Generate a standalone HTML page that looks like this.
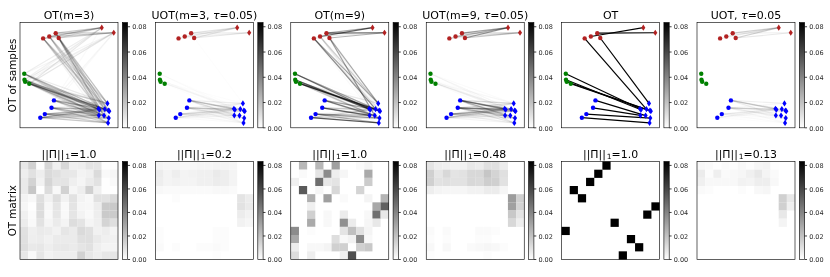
<!DOCTYPE html>
<html><head><meta charset="utf-8"><style>
html,body{margin:0;padding:0;background:#fff;overflow:hidden;width:830px;height:277px;}
svg{display:block;}
text{font-family:"DejaVu Sans","Liberation Sans",sans-serif;fill:#000;}
.t{fill:#2a2a2a;}
</style></head><body>
<svg width="830" height="277" viewBox="0 0 830 277">
<rect width="830" height="277" fill="#fff"/>
<defs><linearGradient id="cg" x1="0" y1="1" x2="0" y2="0"><stop offset="0" stop-color="#fff"/><stop offset="1" stop-color="#000"/></linearGradient></defs>
<g>
<line x1="44.80" y1="114.10" x2="98.45" y2="108.70" stroke="#000" stroke-opacity="0.090" stroke-width="1.2"/>
<line x1="44.80" y1="114.10" x2="108.05" y2="122.90" stroke="#000" stroke-opacity="0.180" stroke-width="1.2"/>
<line x1="44.80" y1="114.10" x2="107.45" y2="103.40" stroke="#000" stroke-opacity="0.012" stroke-width="1.2"/>
<line x1="44.80" y1="114.10" x2="98.85" y2="115.40" stroke="#000" stroke-opacity="0.161" stroke-width="1.2"/>
<line x1="44.80" y1="114.10" x2="104.05" y2="115.60" stroke="#000" stroke-opacity="0.059" stroke-width="1.2"/>
<line x1="44.80" y1="114.10" x2="108.75" y2="118.10" stroke="#000" stroke-opacity="0.153" stroke-width="1.2"/>
<line x1="44.80" y1="114.10" x2="104.85" y2="109.10" stroke="#000" stroke-opacity="0.059" stroke-width="1.2"/>
<line x1="44.80" y1="114.10" x2="109.30" y2="111.15" stroke="#000" stroke-opacity="0.067" stroke-width="1.2"/>
<line x1="44.80" y1="114.10" x2="99.45" y2="109.70" stroke="#000" stroke-opacity="0.106" stroke-width="1.2"/>
<line x1="44.80" y1="114.10" x2="108.40" y2="110.45" stroke="#000" stroke-opacity="0.102" stroke-width="1.2"/>
<line x1="53.90" y1="100.40" x2="98.45" y2="108.70" stroke="#000" stroke-opacity="0.067" stroke-width="1.2"/>
<line x1="53.90" y1="100.40" x2="108.05" y2="122.90" stroke="#000" stroke-opacity="0.118" stroke-width="1.2"/>
<line x1="53.90" y1="100.40" x2="107.45" y2="103.40" stroke="#000" stroke-opacity="0.067" stroke-width="1.2"/>
<line x1="53.90" y1="100.40" x2="98.85" y2="115.40" stroke="#000" stroke-opacity="0.145" stroke-width="1.2"/>
<line x1="53.90" y1="100.40" x2="104.05" y2="115.60" stroke="#000" stroke-opacity="0.122" stroke-width="1.2"/>
<line x1="53.90" y1="100.40" x2="108.75" y2="118.10" stroke="#000" stroke-opacity="0.094" stroke-width="1.2"/>
<line x1="53.90" y1="100.40" x2="104.85" y2="109.10" stroke="#000" stroke-opacity="0.090" stroke-width="1.2"/>
<line x1="53.90" y1="100.40" x2="109.30" y2="111.15" stroke="#000" stroke-opacity="0.047" stroke-width="1.2"/>
<line x1="53.90" y1="100.40" x2="99.45" y2="109.70" stroke="#000" stroke-opacity="0.059" stroke-width="1.2"/>
<line x1="53.90" y1="100.40" x2="108.40" y2="110.45" stroke="#000" stroke-opacity="0.141" stroke-width="1.2"/>
<line x1="53.90" y1="100.40" x2="101.75" y2="27.65" stroke="#000" stroke-opacity="0.024" stroke-width="1.2"/>
<line x1="53.90" y1="100.40" x2="113.75" y2="32.75" stroke="#000" stroke-opacity="0.035" stroke-width="1.2"/>
<line x1="51.50" y1="107.80" x2="98.45" y2="108.70" stroke="#000" stroke-opacity="0.082" stroke-width="1.2"/>
<line x1="51.50" y1="107.80" x2="108.05" y2="122.90" stroke="#000" stroke-opacity="0.173" stroke-width="1.2"/>
<line x1="51.50" y1="107.80" x2="107.45" y2="103.40" stroke="#000" stroke-opacity="0.051" stroke-width="1.2"/>
<line x1="51.50" y1="107.80" x2="98.85" y2="115.40" stroke="#000" stroke-opacity="0.165" stroke-width="1.2"/>
<line x1="51.50" y1="107.80" x2="104.05" y2="115.60" stroke="#000" stroke-opacity="0.106" stroke-width="1.2"/>
<line x1="51.50" y1="107.80" x2="108.75" y2="118.10" stroke="#000" stroke-opacity="0.106" stroke-width="1.2"/>
<line x1="51.50" y1="107.80" x2="104.85" y2="109.10" stroke="#000" stroke-opacity="0.063" stroke-width="1.2"/>
<line x1="51.50" y1="107.80" x2="109.30" y2="111.15" stroke="#000" stroke-opacity="0.039" stroke-width="1.2"/>
<line x1="51.50" y1="107.80" x2="99.45" y2="109.70" stroke="#000" stroke-opacity="0.078" stroke-width="1.2"/>
<line x1="51.50" y1="107.80" x2="108.40" y2="110.45" stroke="#000" stroke-opacity="0.114" stroke-width="1.2"/>
<line x1="51.50" y1="107.80" x2="113.75" y2="32.75" stroke="#000" stroke-opacity="0.024" stroke-width="1.2"/>
<line x1="40.30" y1="117.70" x2="98.45" y2="108.70" stroke="#000" stroke-opacity="0.082" stroke-width="1.2"/>
<line x1="40.30" y1="117.70" x2="108.05" y2="122.90" stroke="#000" stroke-opacity="0.220" stroke-width="1.2"/>
<line x1="40.30" y1="117.70" x2="98.85" y2="115.40" stroke="#000" stroke-opacity="0.137" stroke-width="1.2"/>
<line x1="40.30" y1="117.70" x2="104.05" y2="115.60" stroke="#000" stroke-opacity="0.027" stroke-width="1.2"/>
<line x1="40.30" y1="117.70" x2="108.75" y2="118.10" stroke="#000" stroke-opacity="0.176" stroke-width="1.2"/>
<line x1="40.30" y1="117.70" x2="104.85" y2="109.10" stroke="#000" stroke-opacity="0.035" stroke-width="1.2"/>
<line x1="40.30" y1="117.70" x2="109.30" y2="111.15" stroke="#000" stroke-opacity="0.067" stroke-width="1.2"/>
<line x1="40.30" y1="117.70" x2="99.45" y2="109.70" stroke="#000" stroke-opacity="0.184" stroke-width="1.2"/>
<line x1="40.30" y1="117.70" x2="108.40" y2="110.45" stroke="#000" stroke-opacity="0.059" stroke-width="1.2"/>
<line x1="58.70" y1="38.00" x2="98.45" y2="108.70" stroke="#000" stroke-opacity="0.047" stroke-width="1.2"/>
<line x1="58.70" y1="38.00" x2="108.05" y2="122.90" stroke="#000" stroke-opacity="0.027" stroke-width="1.2"/>
<line x1="58.70" y1="38.00" x2="107.45" y2="103.40" stroke="#000" stroke-opacity="0.129" stroke-width="1.2"/>
<line x1="58.70" y1="38.00" x2="98.85" y2="115.40" stroke="#000" stroke-opacity="0.055" stroke-width="1.2"/>
<line x1="58.70" y1="38.00" x2="104.05" y2="115.60" stroke="#000" stroke-opacity="0.129" stroke-width="1.2"/>
<line x1="58.70" y1="38.00" x2="108.75" y2="118.10" stroke="#000" stroke-opacity="0.051" stroke-width="1.2"/>
<line x1="58.70" y1="38.00" x2="104.85" y2="109.10" stroke="#000" stroke-opacity="0.114" stroke-width="1.2"/>
<line x1="58.70" y1="38.00" x2="109.30" y2="111.15" stroke="#000" stroke-opacity="0.047" stroke-width="1.2"/>
<line x1="58.70" y1="38.00" x2="99.45" y2="109.70" stroke="#000" stroke-opacity="0.027" stroke-width="1.2"/>
<line x1="58.70" y1="38.00" x2="108.40" y2="110.45" stroke="#000" stroke-opacity="0.118" stroke-width="1.2"/>
<line x1="58.70" y1="38.00" x2="101.75" y2="27.65" stroke="#000" stroke-opacity="0.114" stroke-width="1.2"/>
<line x1="58.70" y1="38.00" x2="113.75" y2="32.75" stroke="#000" stroke-opacity="0.149" stroke-width="1.2"/>
<line x1="55.70" y1="33.20" x2="98.45" y2="108.70" stroke="#000" stroke-opacity="0.035" stroke-width="1.2"/>
<line x1="55.70" y1="33.20" x2="107.45" y2="103.40" stroke="#000" stroke-opacity="0.137" stroke-width="1.2"/>
<line x1="55.70" y1="33.20" x2="98.85" y2="115.40" stroke="#000" stroke-opacity="0.031" stroke-width="1.2"/>
<line x1="55.70" y1="33.20" x2="104.05" y2="115.60" stroke="#000" stroke-opacity="0.102" stroke-width="1.2"/>
<line x1="55.70" y1="33.20" x2="108.75" y2="118.10" stroke="#000" stroke-opacity="0.024" stroke-width="1.2"/>
<line x1="55.70" y1="33.20" x2="104.85" y2="109.10" stroke="#000" stroke-opacity="0.106" stroke-width="1.2"/>
<line x1="55.70" y1="33.20" x2="109.30" y2="111.15" stroke="#000" stroke-opacity="0.035" stroke-width="1.2"/>
<line x1="55.70" y1="33.20" x2="99.45" y2="109.70" stroke="#000" stroke-opacity="0.031" stroke-width="1.2"/>
<line x1="55.70" y1="33.20" x2="108.40" y2="110.45" stroke="#000" stroke-opacity="0.071" stroke-width="1.2"/>
<line x1="55.70" y1="33.20" x2="101.75" y2="27.65" stroke="#000" stroke-opacity="0.208" stroke-width="1.2"/>
<line x1="55.70" y1="33.20" x2="113.75" y2="32.75" stroke="#000" stroke-opacity="0.212" stroke-width="1.2"/>
<line x1="49.30" y1="36.50" x2="98.45" y2="108.70" stroke="#000" stroke-opacity="0.059" stroke-width="1.2"/>
<line x1="49.30" y1="36.50" x2="108.05" y2="122.90" stroke="#000" stroke-opacity="0.016" stroke-width="1.2"/>
<line x1="49.30" y1="36.50" x2="107.45" y2="103.40" stroke="#000" stroke-opacity="0.137" stroke-width="1.2"/>
<line x1="49.30" y1="36.50" x2="98.85" y2="115.40" stroke="#000" stroke-opacity="0.024" stroke-width="1.2"/>
<line x1="49.30" y1="36.50" x2="104.05" y2="115.60" stroke="#000" stroke-opacity="0.098" stroke-width="1.2"/>
<line x1="49.30" y1="36.50" x2="108.75" y2="118.10" stroke="#000" stroke-opacity="0.024" stroke-width="1.2"/>
<line x1="49.30" y1="36.50" x2="104.85" y2="109.10" stroke="#000" stroke-opacity="0.102" stroke-width="1.2"/>
<line x1="49.30" y1="36.50" x2="109.30" y2="111.15" stroke="#000" stroke-opacity="0.047" stroke-width="1.2"/>
<line x1="49.30" y1="36.50" x2="99.45" y2="109.70" stroke="#000" stroke-opacity="0.024" stroke-width="1.2"/>
<line x1="49.30" y1="36.50" x2="108.40" y2="110.45" stroke="#000" stroke-opacity="0.067" stroke-width="1.2"/>
<line x1="49.30" y1="36.50" x2="101.75" y2="27.65" stroke="#000" stroke-opacity="0.208" stroke-width="1.2"/>
<line x1="49.30" y1="36.50" x2="113.75" y2="32.75" stroke="#000" stroke-opacity="0.204" stroke-width="1.2"/>
<line x1="43.10" y1="38.40" x2="98.45" y2="108.70" stroke="#000" stroke-opacity="0.075" stroke-width="1.2"/>
<line x1="43.10" y1="38.40" x2="108.05" y2="122.90" stroke="#000" stroke-opacity="0.024" stroke-width="1.2"/>
<line x1="43.10" y1="38.40" x2="107.45" y2="103.40" stroke="#000" stroke-opacity="0.114" stroke-width="1.2"/>
<line x1="43.10" y1="38.40" x2="98.85" y2="115.40" stroke="#000" stroke-opacity="0.039" stroke-width="1.2"/>
<line x1="43.10" y1="38.40" x2="104.05" y2="115.60" stroke="#000" stroke-opacity="0.078" stroke-width="1.2"/>
<line x1="43.10" y1="38.40" x2="108.75" y2="118.10" stroke="#000" stroke-opacity="0.043" stroke-width="1.2"/>
<line x1="43.10" y1="38.40" x2="104.85" y2="109.10" stroke="#000" stroke-opacity="0.133" stroke-width="1.2"/>
<line x1="43.10" y1="38.40" x2="109.30" y2="111.15" stroke="#000" stroke-opacity="0.106" stroke-width="1.2"/>
<line x1="43.10" y1="38.40" x2="99.45" y2="109.70" stroke="#000" stroke-opacity="0.039" stroke-width="1.2"/>
<line x1="43.10" y1="38.40" x2="108.40" y2="110.45" stroke="#000" stroke-opacity="0.063" stroke-width="1.2"/>
<line x1="43.10" y1="38.40" x2="101.75" y2="27.65" stroke="#000" stroke-opacity="0.169" stroke-width="1.2"/>
<line x1="43.10" y1="38.40" x2="113.75" y2="32.75" stroke="#000" stroke-opacity="0.125" stroke-width="1.2"/>
<line x1="24.25" y1="73.70" x2="98.45" y2="108.70" stroke="#000" stroke-opacity="0.118" stroke-width="1.2"/>
<line x1="24.25" y1="73.70" x2="108.05" y2="122.90" stroke="#000" stroke-opacity="0.063" stroke-width="1.2"/>
<line x1="24.25" y1="73.70" x2="107.45" y2="103.40" stroke="#000" stroke-opacity="0.082" stroke-width="1.2"/>
<line x1="24.25" y1="73.70" x2="98.85" y2="115.40" stroke="#000" stroke-opacity="0.075" stroke-width="1.2"/>
<line x1="24.25" y1="73.70" x2="104.05" y2="115.60" stroke="#000" stroke-opacity="0.051" stroke-width="1.2"/>
<line x1="24.25" y1="73.70" x2="108.75" y2="118.10" stroke="#000" stroke-opacity="0.098" stroke-width="1.2"/>
<line x1="24.25" y1="73.70" x2="104.85" y2="109.10" stroke="#000" stroke-opacity="0.078" stroke-width="1.2"/>
<line x1="24.25" y1="73.70" x2="109.30" y2="111.15" stroke="#000" stroke-opacity="0.145" stroke-width="1.2"/>
<line x1="24.25" y1="73.70" x2="99.45" y2="109.70" stroke="#000" stroke-opacity="0.122" stroke-width="1.2"/>
<line x1="24.25" y1="73.70" x2="108.40" y2="110.45" stroke="#000" stroke-opacity="0.055" stroke-width="1.2"/>
<line x1="24.25" y1="73.70" x2="101.75" y2="27.65" stroke="#000" stroke-opacity="0.071" stroke-width="1.2"/>
<line x1="24.25" y1="73.70" x2="113.75" y2="32.75" stroke="#000" stroke-opacity="0.043" stroke-width="1.2"/>
<line x1="24.45" y1="79.70" x2="98.45" y2="108.70" stroke="#000" stroke-opacity="0.122" stroke-width="1.2"/>
<line x1="24.45" y1="79.70" x2="108.05" y2="122.90" stroke="#000" stroke-opacity="0.067" stroke-width="1.2"/>
<line x1="24.45" y1="79.70" x2="107.45" y2="103.40" stroke="#000" stroke-opacity="0.075" stroke-width="1.2"/>
<line x1="24.45" y1="79.70" x2="98.85" y2="115.40" stroke="#000" stroke-opacity="0.055" stroke-width="1.2"/>
<line x1="24.45" y1="79.70" x2="104.05" y2="115.60" stroke="#000" stroke-opacity="0.078" stroke-width="1.2"/>
<line x1="24.45" y1="79.70" x2="108.75" y2="118.10" stroke="#000" stroke-opacity="0.078" stroke-width="1.2"/>
<line x1="24.45" y1="79.70" x2="104.85" y2="109.10" stroke="#000" stroke-opacity="0.078" stroke-width="1.2"/>
<line x1="24.45" y1="79.70" x2="109.30" y2="111.15" stroke="#000" stroke-opacity="0.122" stroke-width="1.2"/>
<line x1="24.45" y1="79.70" x2="99.45" y2="109.70" stroke="#000" stroke-opacity="0.125" stroke-width="1.2"/>
<line x1="24.45" y1="79.70" x2="108.40" y2="110.45" stroke="#000" stroke-opacity="0.082" stroke-width="1.2"/>
<line x1="24.45" y1="79.70" x2="101.75" y2="27.65" stroke="#000" stroke-opacity="0.059" stroke-width="1.2"/>
<line x1="24.45" y1="79.70" x2="113.75" y2="32.75" stroke="#000" stroke-opacity="0.055" stroke-width="1.2"/>
<line x1="25.15" y1="81.70" x2="98.45" y2="108.70" stroke="#000" stroke-opacity="0.129" stroke-width="1.2"/>
<line x1="25.15" y1="81.70" x2="108.05" y2="122.90" stroke="#000" stroke-opacity="0.086" stroke-width="1.2"/>
<line x1="25.15" y1="81.70" x2="107.45" y2="103.40" stroke="#000" stroke-opacity="0.094" stroke-width="1.2"/>
<line x1="25.15" y1="81.70" x2="98.85" y2="115.40" stroke="#000" stroke-opacity="0.067" stroke-width="1.2"/>
<line x1="25.15" y1="81.70" x2="104.05" y2="115.60" stroke="#000" stroke-opacity="0.086" stroke-width="1.2"/>
<line x1="25.15" y1="81.70" x2="108.75" y2="118.10" stroke="#000" stroke-opacity="0.090" stroke-width="1.2"/>
<line x1="25.15" y1="81.70" x2="104.85" y2="109.10" stroke="#000" stroke-opacity="0.078" stroke-width="1.2"/>
<line x1="25.15" y1="81.70" x2="109.30" y2="111.15" stroke="#000" stroke-opacity="0.102" stroke-width="1.2"/>
<line x1="25.15" y1="81.70" x2="99.45" y2="109.70" stroke="#000" stroke-opacity="0.118" stroke-width="1.2"/>
<line x1="25.15" y1="81.70" x2="108.40" y2="110.45" stroke="#000" stroke-opacity="0.063" stroke-width="1.2"/>
<line x1="25.15" y1="81.70" x2="101.75" y2="27.65" stroke="#000" stroke-opacity="0.043" stroke-width="1.2"/>
<line x1="25.15" y1="81.70" x2="113.75" y2="32.75" stroke="#000" stroke-opacity="0.047" stroke-width="1.2"/>
<line x1="29.25" y1="83.70" x2="98.45" y2="108.70" stroke="#000" stroke-opacity="0.094" stroke-width="1.2"/>
<line x1="29.25" y1="83.70" x2="108.05" y2="122.90" stroke="#000" stroke-opacity="0.024" stroke-width="1.2"/>
<line x1="29.25" y1="83.70" x2="107.45" y2="103.40" stroke="#000" stroke-opacity="0.098" stroke-width="1.2"/>
<line x1="29.25" y1="83.70" x2="98.85" y2="115.40" stroke="#000" stroke-opacity="0.051" stroke-width="1.2"/>
<line x1="29.25" y1="83.70" x2="104.05" y2="115.60" stroke="#000" stroke-opacity="0.067" stroke-width="1.2"/>
<line x1="29.25" y1="83.70" x2="108.75" y2="118.10" stroke="#000" stroke-opacity="0.067" stroke-width="1.2"/>
<line x1="29.25" y1="83.70" x2="104.85" y2="109.10" stroke="#000" stroke-opacity="0.067" stroke-width="1.2"/>
<line x1="29.25" y1="83.70" x2="109.30" y2="111.15" stroke="#000" stroke-opacity="0.176" stroke-width="1.2"/>
<line x1="29.25" y1="83.70" x2="99.45" y2="109.70" stroke="#000" stroke-opacity="0.094" stroke-width="1.2"/>
<line x1="29.25" y1="83.70" x2="108.40" y2="110.45" stroke="#000" stroke-opacity="0.067" stroke-width="1.2"/>
<line x1="29.25" y1="83.70" x2="101.75" y2="27.65" stroke="#000" stroke-opacity="0.094" stroke-width="1.2"/>
<line x1="29.25" y1="83.70" x2="113.75" y2="32.75" stroke="#000" stroke-opacity="0.102" stroke-width="1.2"/>
</g>
<circle cx="44.80" cy="114.10" r="2.2" fill="#0000ff"/>
<circle cx="53.90" cy="100.40" r="2.2" fill="#0000ff"/>
<circle cx="51.50" cy="107.80" r="2.2" fill="#0000ff"/>
<circle cx="40.30" cy="117.70" r="2.2" fill="#0000ff"/>
<circle cx="58.70" cy="38.00" r="2.2" fill="#b22222"/>
<circle cx="55.70" cy="33.20" r="2.2" fill="#b22222"/>
<circle cx="49.30" cy="36.50" r="2.2" fill="#b22222"/>
<circle cx="43.10" cy="38.40" r="2.2" fill="#b22222"/>
<circle cx="24.25" cy="73.70" r="2.2" fill="#008000"/>
<circle cx="24.45" cy="79.70" r="2.2" fill="#008000"/>
<circle cx="25.15" cy="81.70" r="2.2" fill="#008000"/>
<circle cx="29.25" cy="83.70" r="2.2" fill="#008000"/>
<path d="M98.45 105.65L100.50 108.70L98.45 111.75L96.40 108.70Z" fill="#0000ff"/>
<path d="M108.05 119.85L110.10 122.90L108.05 125.95L106.00 122.90Z" fill="#0000ff"/>
<path d="M107.45 100.35L109.50 103.40L107.45 106.45L105.40 103.40Z" fill="#0000ff"/>
<path d="M98.85 112.35L100.90 115.40L98.85 118.45L96.80 115.40Z" fill="#0000ff"/>
<path d="M104.05 112.55L106.10 115.60L104.05 118.65L102.00 115.60Z" fill="#0000ff"/>
<path d="M108.75 115.05L110.80 118.10L108.75 121.15L106.70 118.10Z" fill="#0000ff"/>
<path d="M104.85 106.05L106.90 109.10L104.85 112.15L102.80 109.10Z" fill="#0000ff"/>
<path d="M109.30 108.10L111.35 111.15L109.30 114.20L107.25 111.15Z" fill="#0000ff"/>
<path d="M99.45 106.65L101.50 109.70L99.45 112.75L97.40 109.70Z" fill="#0000ff"/>
<path d="M108.40 107.40L110.45 110.45L108.40 113.50L106.35 110.45Z" fill="#0000ff"/>
<path d="M101.75 24.60L103.80 27.65L101.75 30.70L99.70 27.65Z" fill="#b22222"/>
<path d="M113.75 29.70L115.80 32.75L113.75 35.80L111.70 32.75Z" fill="#b22222"/>
<rect x="20.00" y="22.55" width="98.0" height="105.25" fill="none" stroke="#000" stroke-width="0.62"/>
<rect x="122.35" y="22.55" width="5.3" height="105.25" fill="url(#cg)" stroke="#000" stroke-width="0.62"/>
<line x1="127.65" y1="127.80" x2="130.05" y2="127.80" stroke="#000" stroke-width="0.75"/>
<text x="132.15" y="130.50" font-size="6.5" class="t">0.00</text>
<line x1="127.65" y1="102.54" x2="130.05" y2="102.54" stroke="#000" stroke-width="0.75"/>
<text x="132.15" y="105.24" font-size="6.5" class="t">0.02</text>
<line x1="127.65" y1="77.28" x2="130.05" y2="77.28" stroke="#000" stroke-width="0.75"/>
<text x="132.15" y="79.98" font-size="6.5" class="t">0.04</text>
<line x1="127.65" y1="52.02" x2="130.05" y2="52.02" stroke="#000" stroke-width="0.75"/>
<text x="132.15" y="54.72" font-size="6.5" class="t">0.06</text>
<line x1="127.65" y1="26.76" x2="130.05" y2="26.76" stroke="#000" stroke-width="0.75"/>
<text x="132.15" y="29.46" font-size="6.5" class="t">0.08</text>
<text transform="translate(69.00 18.6) scale(1.065 1)" font-size="10.3" text-anchor="middle">OT(m=3)</text>
<rect x="20.00" y="161.50" width="8.22" height="8.22" fill="rgb(232,232,232)"/>
<rect x="28.17" y="161.50" width="8.22" height="8.22" fill="rgb(209,209,209)"/>
<rect x="36.33" y="161.50" width="8.22" height="8.22" fill="rgb(252,252,252)"/>
<rect x="44.50" y="161.50" width="8.22" height="8.22" fill="rgb(214,214,214)"/>
<rect x="52.67" y="161.50" width="8.22" height="8.22" fill="rgb(240,240,240)"/>
<rect x="60.83" y="161.50" width="8.22" height="8.22" fill="rgb(216,216,216)"/>
<rect x="69.00" y="161.50" width="8.22" height="8.22" fill="rgb(240,240,240)"/>
<rect x="77.17" y="161.50" width="8.22" height="8.22" fill="rgb(238,238,238)"/>
<rect x="85.33" y="161.50" width="8.22" height="8.22" fill="rgb(228,228,228)"/>
<rect x="93.50" y="161.50" width="8.22" height="8.22" fill="rgb(229,229,229)"/>
<rect x="101.67" y="161.50" width="8.22" height="8.22" fill="rgb(254,254,254)"/>
<rect x="109.83" y="161.50" width="8.22" height="8.22" fill="rgb(254,254,254)"/>
<rect x="20.00" y="169.67" width="8.22" height="8.22" fill="rgb(238,238,238)"/>
<rect x="28.17" y="169.67" width="8.22" height="8.22" fill="rgb(225,225,225)"/>
<rect x="36.33" y="169.67" width="8.22" height="8.22" fill="rgb(238,238,238)"/>
<rect x="44.50" y="169.67" width="8.22" height="8.22" fill="rgb(218,218,218)"/>
<rect x="52.67" y="169.67" width="8.22" height="8.22" fill="rgb(224,224,224)"/>
<rect x="60.83" y="169.67" width="8.22" height="8.22" fill="rgb(231,231,231)"/>
<rect x="69.00" y="169.67" width="8.22" height="8.22" fill="rgb(232,232,232)"/>
<rect x="77.17" y="169.67" width="8.22" height="8.22" fill="rgb(243,243,243)"/>
<rect x="85.33" y="169.67" width="8.22" height="8.22" fill="rgb(240,240,240)"/>
<rect x="93.50" y="169.67" width="8.22" height="8.22" fill="rgb(219,219,219)"/>
<rect x="101.67" y="169.67" width="8.22" height="8.22" fill="rgb(249,249,249)"/>
<rect x="109.83" y="169.67" width="8.22" height="8.22" fill="rgb(246,246,246)"/>
<rect x="20.00" y="177.83" width="8.22" height="8.22" fill="rgb(234,234,234)"/>
<rect x="28.17" y="177.83" width="8.22" height="8.22" fill="rgb(211,211,211)"/>
<rect x="36.33" y="177.83" width="8.22" height="8.22" fill="rgb(242,242,242)"/>
<rect x="44.50" y="177.83" width="8.22" height="8.22" fill="rgb(213,213,213)"/>
<rect x="52.67" y="177.83" width="8.22" height="8.22" fill="rgb(228,228,228)"/>
<rect x="60.83" y="177.83" width="8.22" height="8.22" fill="rgb(228,228,228)"/>
<rect x="69.00" y="177.83" width="8.22" height="8.22" fill="rgb(239,239,239)"/>
<rect x="77.17" y="177.83" width="8.22" height="8.22" fill="rgb(245,245,245)"/>
<rect x="85.33" y="177.83" width="8.22" height="8.22" fill="rgb(235,235,235)"/>
<rect x="93.50" y="177.83" width="8.22" height="8.22" fill="rgb(226,226,226)"/>
<rect x="101.67" y="177.83" width="8.22" height="8.22" fill="rgb(254,254,254)"/>
<rect x="109.83" y="177.83" width="8.22" height="8.22" fill="rgb(249,249,249)"/>
<rect x="20.00" y="186.00" width="8.22" height="8.22" fill="rgb(234,234,234)"/>
<rect x="28.17" y="186.00" width="8.22" height="8.22" fill="rgb(199,199,199)"/>
<rect x="36.33" y="186.00" width="8.22" height="8.22" fill="rgb(254,254,254)"/>
<rect x="44.50" y="186.00" width="8.22" height="8.22" fill="rgb(220,220,220)"/>
<rect x="52.67" y="186.00" width="8.22" height="8.22" fill="rgb(248,248,248)"/>
<rect x="60.83" y="186.00" width="8.22" height="8.22" fill="rgb(210,210,210)"/>
<rect x="69.00" y="186.00" width="8.22" height="8.22" fill="rgb(246,246,246)"/>
<rect x="77.17" y="186.00" width="8.22" height="8.22" fill="rgb(238,238,238)"/>
<rect x="85.33" y="186.00" width="8.22" height="8.22" fill="rgb(208,208,208)"/>
<rect x="93.50" y="186.00" width="8.22" height="8.22" fill="rgb(240,240,240)"/>
<rect x="101.67" y="186.00" width="8.22" height="8.22" fill="rgb(254,254,254)"/>
<rect x="109.83" y="186.00" width="8.22" height="8.22" fill="rgb(254,254,254)"/>
<rect x="20.00" y="194.17" width="8.22" height="8.22" fill="rgb(243,243,243)"/>
<rect x="28.17" y="194.17" width="8.22" height="8.22" fill="rgb(248,248,248)"/>
<rect x="36.33" y="194.17" width="8.22" height="8.22" fill="rgb(222,222,222)"/>
<rect x="44.50" y="194.17" width="8.22" height="8.22" fill="rgb(241,241,241)"/>
<rect x="52.67" y="194.17" width="8.22" height="8.22" fill="rgb(222,222,222)"/>
<rect x="60.83" y="194.17" width="8.22" height="8.22" fill="rgb(242,242,242)"/>
<rect x="69.00" y="194.17" width="8.22" height="8.22" fill="rgb(226,226,226)"/>
<rect x="77.17" y="194.17" width="8.22" height="8.22" fill="rgb(243,243,243)"/>
<rect x="85.33" y="194.17" width="8.22" height="8.22" fill="rgb(248,248,248)"/>
<rect x="93.50" y="194.17" width="8.22" height="8.22" fill="rgb(225,225,225)"/>
<rect x="101.67" y="194.17" width="8.22" height="8.22" fill="rgb(226,226,226)"/>
<rect x="109.83" y="194.17" width="8.22" height="8.22" fill="rgb(217,217,217)"/>
<rect x="20.00" y="202.33" width="8.22" height="8.22" fill="rgb(246,246,246)"/>
<rect x="28.17" y="202.33" width="8.22" height="8.22" fill="rgb(254,254,254)"/>
<rect x="36.33" y="202.33" width="8.22" height="8.22" fill="rgb(220,220,220)"/>
<rect x="44.50" y="202.33" width="8.22" height="8.22" fill="rgb(247,247,247)"/>
<rect x="52.67" y="202.33" width="8.22" height="8.22" fill="rgb(229,229,229)"/>
<rect x="60.83" y="202.33" width="8.22" height="8.22" fill="rgb(249,249,249)"/>
<rect x="69.00" y="202.33" width="8.22" height="8.22" fill="rgb(228,228,228)"/>
<rect x="77.17" y="202.33" width="8.22" height="8.22" fill="rgb(246,246,246)"/>
<rect x="85.33" y="202.33" width="8.22" height="8.22" fill="rgb(247,247,247)"/>
<rect x="93.50" y="202.33" width="8.22" height="8.22" fill="rgb(237,237,237)"/>
<rect x="101.67" y="202.33" width="8.22" height="8.22" fill="rgb(202,202,202)"/>
<rect x="109.83" y="202.33" width="8.22" height="8.22" fill="rgb(201,201,201)"/>
<rect x="20.00" y="210.50" width="8.22" height="8.22" fill="rgb(240,240,240)"/>
<rect x="28.17" y="210.50" width="8.22" height="8.22" fill="rgb(251,251,251)"/>
<rect x="36.33" y="210.50" width="8.22" height="8.22" fill="rgb(220,220,220)"/>
<rect x="44.50" y="210.50" width="8.22" height="8.22" fill="rgb(249,249,249)"/>
<rect x="52.67" y="210.50" width="8.22" height="8.22" fill="rgb(230,230,230)"/>
<rect x="60.83" y="210.50" width="8.22" height="8.22" fill="rgb(249,249,249)"/>
<rect x="69.00" y="210.50" width="8.22" height="8.22" fill="rgb(229,229,229)"/>
<rect x="77.17" y="210.50" width="8.22" height="8.22" fill="rgb(243,243,243)"/>
<rect x="85.33" y="210.50" width="8.22" height="8.22" fill="rgb(249,249,249)"/>
<rect x="93.50" y="210.50" width="8.22" height="8.22" fill="rgb(238,238,238)"/>
<rect x="101.67" y="210.50" width="8.22" height="8.22" fill="rgb(202,202,202)"/>
<rect x="109.83" y="210.50" width="8.22" height="8.22" fill="rgb(203,203,203)"/>
<rect x="20.00" y="218.67" width="8.22" height="8.22" fill="rgb(236,236,236)"/>
<rect x="28.17" y="218.67" width="8.22" height="8.22" fill="rgb(249,249,249)"/>
<rect x="36.33" y="218.67" width="8.22" height="8.22" fill="rgb(226,226,226)"/>
<rect x="44.50" y="218.67" width="8.22" height="8.22" fill="rgb(245,245,245)"/>
<rect x="52.67" y="218.67" width="8.22" height="8.22" fill="rgb(235,235,235)"/>
<rect x="60.83" y="218.67" width="8.22" height="8.22" fill="rgb(244,244,244)"/>
<rect x="69.00" y="218.67" width="8.22" height="8.22" fill="rgb(221,221,221)"/>
<rect x="77.17" y="218.67" width="8.22" height="8.22" fill="rgb(228,228,228)"/>
<rect x="85.33" y="218.67" width="8.22" height="8.22" fill="rgb(245,245,245)"/>
<rect x="93.50" y="218.67" width="8.22" height="8.22" fill="rgb(239,239,239)"/>
<rect x="101.67" y="218.67" width="8.22" height="8.22" fill="rgb(212,212,212)"/>
<rect x="109.83" y="218.67" width="8.22" height="8.22" fill="rgb(223,223,223)"/>
<rect x="20.00" y="226.83" width="8.22" height="8.22" fill="rgb(225,225,225)"/>
<rect x="28.17" y="226.83" width="8.22" height="8.22" fill="rgb(239,239,239)"/>
<rect x="36.33" y="226.83" width="8.22" height="8.22" fill="rgb(234,234,234)"/>
<rect x="44.50" y="226.83" width="8.22" height="8.22" fill="rgb(236,236,236)"/>
<rect x="52.67" y="226.83" width="8.22" height="8.22" fill="rgb(242,242,242)"/>
<rect x="60.83" y="226.83" width="8.22" height="8.22" fill="rgb(230,230,230)"/>
<rect x="69.00" y="226.83" width="8.22" height="8.22" fill="rgb(235,235,235)"/>
<rect x="77.17" y="226.83" width="8.22" height="8.22" fill="rgb(218,218,218)"/>
<rect x="85.33" y="226.83" width="8.22" height="8.22" fill="rgb(224,224,224)"/>
<rect x="93.50" y="226.83" width="8.22" height="8.22" fill="rgb(241,241,241)"/>
<rect x="101.67" y="226.83" width="8.22" height="8.22" fill="rgb(237,237,237)"/>
<rect x="109.83" y="226.83" width="8.22" height="8.22" fill="rgb(244,244,244)"/>
<rect x="20.00" y="235.00" width="8.22" height="8.22" fill="rgb(224,224,224)"/>
<rect x="28.17" y="235.00" width="8.22" height="8.22" fill="rgb(238,238,238)"/>
<rect x="36.33" y="235.00" width="8.22" height="8.22" fill="rgb(236,236,236)"/>
<rect x="44.50" y="235.00" width="8.22" height="8.22" fill="rgb(241,241,241)"/>
<rect x="52.67" y="235.00" width="8.22" height="8.22" fill="rgb(235,235,235)"/>
<rect x="60.83" y="235.00" width="8.22" height="8.22" fill="rgb(235,235,235)"/>
<rect x="69.00" y="235.00" width="8.22" height="8.22" fill="rgb(235,235,235)"/>
<rect x="77.17" y="235.00" width="8.22" height="8.22" fill="rgb(224,224,224)"/>
<rect x="85.33" y="235.00" width="8.22" height="8.22" fill="rgb(223,223,223)"/>
<rect x="93.50" y="235.00" width="8.22" height="8.22" fill="rgb(234,234,234)"/>
<rect x="101.67" y="235.00" width="8.22" height="8.22" fill="rgb(240,240,240)"/>
<rect x="109.83" y="235.00" width="8.22" height="8.22" fill="rgb(241,241,241)"/>
<rect x="20.00" y="243.17" width="8.22" height="8.22" fill="rgb(222,222,222)"/>
<rect x="28.17" y="243.17" width="8.22" height="8.22" fill="rgb(233,233,233)"/>
<rect x="36.33" y="243.17" width="8.22" height="8.22" fill="rgb(231,231,231)"/>
<rect x="44.50" y="243.17" width="8.22" height="8.22" fill="rgb(238,238,238)"/>
<rect x="52.67" y="243.17" width="8.22" height="8.22" fill="rgb(233,233,233)"/>
<rect x="60.83" y="243.17" width="8.22" height="8.22" fill="rgb(232,232,232)"/>
<rect x="69.00" y="243.17" width="8.22" height="8.22" fill="rgb(235,235,235)"/>
<rect x="77.17" y="243.17" width="8.22" height="8.22" fill="rgb(229,229,229)"/>
<rect x="85.33" y="243.17" width="8.22" height="8.22" fill="rgb(225,225,225)"/>
<rect x="93.50" y="243.17" width="8.22" height="8.22" fill="rgb(239,239,239)"/>
<rect x="101.67" y="243.17" width="8.22" height="8.22" fill="rgb(244,244,244)"/>
<rect x="109.83" y="243.17" width="8.22" height="8.22" fill="rgb(243,243,243)"/>
<rect x="20.00" y="251.33" width="8.22" height="8.22" fill="rgb(231,231,231)"/>
<rect x="28.17" y="251.33" width="8.22" height="8.22" fill="rgb(249,249,249)"/>
<rect x="36.33" y="251.33" width="8.22" height="8.22" fill="rgb(230,230,230)"/>
<rect x="44.50" y="251.33" width="8.22" height="8.22" fill="rgb(242,242,242)"/>
<rect x="52.67" y="251.33" width="8.22" height="8.22" fill="rgb(238,238,238)"/>
<rect x="60.83" y="251.33" width="8.22" height="8.22" fill="rgb(238,238,238)"/>
<rect x="69.00" y="251.33" width="8.22" height="8.22" fill="rgb(238,238,238)"/>
<rect x="77.17" y="251.33" width="8.22" height="8.22" fill="rgb(210,210,210)"/>
<rect x="85.33" y="251.33" width="8.22" height="8.22" fill="rgb(231,231,231)"/>
<rect x="93.50" y="251.33" width="8.22" height="8.22" fill="rgb(238,238,238)"/>
<rect x="101.67" y="251.33" width="8.22" height="8.22" fill="rgb(231,231,231)"/>
<rect x="109.83" y="251.33" width="8.22" height="8.22" fill="rgb(229,229,229)"/>
<rect x="20.00" y="161.50" width="98.0" height="98.0" fill="none" stroke="#000" stroke-width="0.62"/>
<rect x="122.35" y="161.50" width="5.3" height="98.00" fill="url(#cg)" stroke="#000" stroke-width="0.62"/>
<line x1="127.65" y1="259.50" x2="130.05" y2="259.50" stroke="#000" stroke-width="0.75"/>
<text x="132.15" y="262.20" font-size="6.5" class="t">0.00</text>
<line x1="127.65" y1="235.98" x2="130.05" y2="235.98" stroke="#000" stroke-width="0.75"/>
<text x="132.15" y="238.68" font-size="6.5" class="t">0.02</text>
<line x1="127.65" y1="212.46" x2="130.05" y2="212.46" stroke="#000" stroke-width="0.75"/>
<text x="132.15" y="215.16" font-size="6.5" class="t">0.04</text>
<line x1="127.65" y1="188.94" x2="130.05" y2="188.94" stroke="#000" stroke-width="0.75"/>
<text x="132.15" y="191.64" font-size="6.5" class="t">0.06</text>
<line x1="127.65" y1="165.42" x2="130.05" y2="165.42" stroke="#000" stroke-width="0.75"/>
<text x="132.15" y="168.12" font-size="6.5" class="t">0.08</text>
<text transform="translate(69.00 157.6) scale(1.06 1)" font-size="10.3" text-anchor="middle">||Π||<tspan font-size="7.21" dx="0.8" dy="1.5">1</tspan><tspan dy="-1.5">=</tspan>1.0</text>
<g>
<line x1="180.25" y1="114.10" x2="233.90" y2="108.70" stroke="#000" stroke-opacity="0.043" stroke-width="1.2"/>
<line x1="180.25" y1="114.10" x2="243.50" y2="122.90" stroke="#000" stroke-opacity="0.035" stroke-width="1.2"/>
<line x1="180.25" y1="114.10" x2="242.90" y2="103.40" stroke="#000" stroke-opacity="0.035" stroke-width="1.2"/>
<line x1="180.25" y1="114.10" x2="234.30" y2="115.40" stroke="#000" stroke-opacity="0.027" stroke-width="1.2"/>
<line x1="180.25" y1="114.10" x2="239.50" y2="115.60" stroke="#000" stroke-opacity="0.027" stroke-width="1.2"/>
<line x1="180.25" y1="114.10" x2="244.20" y2="118.10" stroke="#000" stroke-opacity="0.035" stroke-width="1.2"/>
<line x1="180.25" y1="114.10" x2="240.30" y2="109.10" stroke="#000" stroke-opacity="0.035" stroke-width="1.2"/>
<line x1="180.25" y1="114.10" x2="244.75" y2="111.15" stroke="#000" stroke-opacity="0.043" stroke-width="1.2"/>
<line x1="180.25" y1="114.10" x2="234.90" y2="109.70" stroke="#000" stroke-opacity="0.043" stroke-width="1.2"/>
<line x1="180.25" y1="114.10" x2="243.85" y2="110.45" stroke="#000" stroke-opacity="0.035" stroke-width="1.2"/>
<line x1="189.35" y1="100.40" x2="233.90" y2="108.70" stroke="#000" stroke-opacity="0.075" stroke-width="1.2"/>
<line x1="189.35" y1="100.40" x2="243.50" y2="122.90" stroke="#000" stroke-opacity="0.043" stroke-width="1.2"/>
<line x1="189.35" y1="100.40" x2="242.90" y2="103.40" stroke="#000" stroke-opacity="0.067" stroke-width="1.2"/>
<line x1="189.35" y1="100.40" x2="234.30" y2="115.40" stroke="#000" stroke-opacity="0.043" stroke-width="1.2"/>
<line x1="189.35" y1="100.40" x2="239.50" y2="115.60" stroke="#000" stroke-opacity="0.051" stroke-width="1.2"/>
<line x1="189.35" y1="100.40" x2="244.20" y2="118.10" stroke="#000" stroke-opacity="0.059" stroke-width="1.2"/>
<line x1="189.35" y1="100.40" x2="240.30" y2="109.10" stroke="#000" stroke-opacity="0.059" stroke-width="1.2"/>
<line x1="189.35" y1="100.40" x2="244.75" y2="111.15" stroke="#000" stroke-opacity="0.082" stroke-width="1.2"/>
<line x1="189.35" y1="100.40" x2="234.90" y2="109.70" stroke="#000" stroke-opacity="0.067" stroke-width="1.2"/>
<line x1="189.35" y1="100.40" x2="243.85" y2="110.45" stroke="#000" stroke-opacity="0.043" stroke-width="1.2"/>
<line x1="186.95" y1="107.80" x2="233.90" y2="108.70" stroke="#000" stroke-opacity="0.067" stroke-width="1.2"/>
<line x1="186.95" y1="107.80" x2="243.50" y2="122.90" stroke="#000" stroke-opacity="0.043" stroke-width="1.2"/>
<line x1="186.95" y1="107.80" x2="242.90" y2="103.40" stroke="#000" stroke-opacity="0.051" stroke-width="1.2"/>
<line x1="186.95" y1="107.80" x2="234.30" y2="115.40" stroke="#000" stroke-opacity="0.043" stroke-width="1.2"/>
<line x1="186.95" y1="107.80" x2="239.50" y2="115.60" stroke="#000" stroke-opacity="0.043" stroke-width="1.2"/>
<line x1="186.95" y1="107.80" x2="244.20" y2="118.10" stroke="#000" stroke-opacity="0.059" stroke-width="1.2"/>
<line x1="186.95" y1="107.80" x2="240.30" y2="109.10" stroke="#000" stroke-opacity="0.059" stroke-width="1.2"/>
<line x1="186.95" y1="107.80" x2="244.75" y2="111.15" stroke="#000" stroke-opacity="0.075" stroke-width="1.2"/>
<line x1="186.95" y1="107.80" x2="234.90" y2="109.70" stroke="#000" stroke-opacity="0.067" stroke-width="1.2"/>
<line x1="186.95" y1="107.80" x2="243.85" y2="110.45" stroke="#000" stroke-opacity="0.043" stroke-width="1.2"/>
<line x1="175.75" y1="117.70" x2="233.90" y2="108.70" stroke="#000" stroke-opacity="0.027" stroke-width="1.2"/>
<line x1="175.75" y1="117.70" x2="243.50" y2="122.90" stroke="#000" stroke-opacity="0.020" stroke-width="1.2"/>
<line x1="175.75" y1="117.70" x2="242.90" y2="103.40" stroke="#000" stroke-opacity="0.020" stroke-width="1.2"/>
<line x1="175.75" y1="117.70" x2="234.30" y2="115.40" stroke="#000" stroke-opacity="0.020" stroke-width="1.2"/>
<line x1="175.75" y1="117.70" x2="239.50" y2="115.60" stroke="#000" stroke-opacity="0.020" stroke-width="1.2"/>
<line x1="175.75" y1="117.70" x2="244.20" y2="118.10" stroke="#000" stroke-opacity="0.020" stroke-width="1.2"/>
<line x1="175.75" y1="117.70" x2="240.30" y2="109.10" stroke="#000" stroke-opacity="0.020" stroke-width="1.2"/>
<line x1="175.75" y1="117.70" x2="244.75" y2="111.15" stroke="#000" stroke-opacity="0.027" stroke-width="1.2"/>
<line x1="175.75" y1="117.70" x2="234.90" y2="109.70" stroke="#000" stroke-opacity="0.027" stroke-width="1.2"/>
<line x1="175.75" y1="117.70" x2="243.85" y2="110.45" stroke="#000" stroke-opacity="0.020" stroke-width="1.2"/>
<line x1="194.15" y1="38.00" x2="242.90" y2="103.40" stroke="#000" stroke-opacity="0.012" stroke-width="1.2"/>
<line x1="194.15" y1="38.00" x2="237.20" y2="27.65" stroke="#000" stroke-opacity="0.106" stroke-width="1.2"/>
<line x1="194.15" y1="38.00" x2="249.20" y2="32.75" stroke="#000" stroke-opacity="0.075" stroke-width="1.2"/>
<line x1="191.15" y1="33.20" x2="237.20" y2="27.65" stroke="#000" stroke-opacity="0.114" stroke-width="1.2"/>
<line x1="191.15" y1="33.20" x2="249.20" y2="32.75" stroke="#000" stroke-opacity="0.082" stroke-width="1.2"/>
<line x1="184.75" y1="36.50" x2="237.20" y2="27.65" stroke="#000" stroke-opacity="0.075" stroke-width="1.2"/>
<line x1="184.75" y1="36.50" x2="249.20" y2="32.75" stroke="#000" stroke-opacity="0.051" stroke-width="1.2"/>
<line x1="178.55" y1="38.40" x2="237.20" y2="27.65" stroke="#000" stroke-opacity="0.051" stroke-width="1.2"/>
<line x1="178.55" y1="38.40" x2="249.20" y2="32.75" stroke="#000" stroke-opacity="0.035" stroke-width="1.2"/>
<line x1="159.70" y1="73.70" x2="233.90" y2="108.70" stroke="#000" stroke-opacity="0.012" stroke-width="1.2"/>
<line x1="159.70" y1="73.70" x2="244.75" y2="111.15" stroke="#000" stroke-opacity="0.012" stroke-width="1.2"/>
<line x1="159.70" y1="73.70" x2="234.90" y2="109.70" stroke="#000" stroke-opacity="0.012" stroke-width="1.2"/>
<line x1="159.90" y1="79.70" x2="233.90" y2="108.70" stroke="#000" stroke-opacity="0.012" stroke-width="1.2"/>
<line x1="159.90" y1="79.70" x2="244.75" y2="111.15" stroke="#000" stroke-opacity="0.012" stroke-width="1.2"/>
<line x1="159.90" y1="79.70" x2="234.90" y2="109.70" stroke="#000" stroke-opacity="0.012" stroke-width="1.2"/>
<line x1="160.60" y1="81.70" x2="233.90" y2="108.70" stroke="#000" stroke-opacity="0.020" stroke-width="1.2"/>
<line x1="160.60" y1="81.70" x2="242.90" y2="103.40" stroke="#000" stroke-opacity="0.012" stroke-width="1.2"/>
<line x1="160.60" y1="81.70" x2="244.20" y2="118.10" stroke="#000" stroke-opacity="0.012" stroke-width="1.2"/>
<line x1="160.60" y1="81.70" x2="240.30" y2="109.10" stroke="#000" stroke-opacity="0.012" stroke-width="1.2"/>
<line x1="160.60" y1="81.70" x2="244.75" y2="111.15" stroke="#000" stroke-opacity="0.020" stroke-width="1.2"/>
<line x1="160.60" y1="81.70" x2="234.90" y2="109.70" stroke="#000" stroke-opacity="0.012" stroke-width="1.2"/>
<line x1="164.70" y1="83.70" x2="244.75" y2="111.15" stroke="#000" stroke-opacity="0.008" stroke-width="1.2"/>
</g>
<circle cx="180.25" cy="114.10" r="2.2" fill="#0000ff"/>
<circle cx="189.35" cy="100.40" r="2.2" fill="#0000ff"/>
<circle cx="186.95" cy="107.80" r="2.2" fill="#0000ff"/>
<circle cx="175.75" cy="117.70" r="2.2" fill="#0000ff"/>
<circle cx="194.15" cy="38.00" r="2.2" fill="#b22222"/>
<circle cx="191.15" cy="33.20" r="2.2" fill="#b22222"/>
<circle cx="184.75" cy="36.50" r="2.2" fill="#b22222"/>
<circle cx="178.55" cy="38.40" r="2.2" fill="#b22222"/>
<circle cx="159.70" cy="73.70" r="2.2" fill="#008000"/>
<circle cx="159.90" cy="79.70" r="2.2" fill="#008000"/>
<circle cx="160.60" cy="81.70" r="2.2" fill="#008000"/>
<circle cx="164.70" cy="83.70" r="2.2" fill="#008000"/>
<path d="M233.90 105.65L235.95 108.70L233.90 111.75L231.85 108.70Z" fill="#0000ff"/>
<path d="M243.50 119.85L245.55 122.90L243.50 125.95L241.45 122.90Z" fill="#0000ff"/>
<path d="M242.90 100.35L244.95 103.40L242.90 106.45L240.85 103.40Z" fill="#0000ff"/>
<path d="M234.30 112.35L236.35 115.40L234.30 118.45L232.25 115.40Z" fill="#0000ff"/>
<path d="M239.50 112.55L241.55 115.60L239.50 118.65L237.45 115.60Z" fill="#0000ff"/>
<path d="M244.20 115.05L246.25 118.10L244.20 121.15L242.15 118.10Z" fill="#0000ff"/>
<path d="M240.30 106.05L242.35 109.10L240.30 112.15L238.25 109.10Z" fill="#0000ff"/>
<path d="M244.75 108.10L246.80 111.15L244.75 114.20L242.70 111.15Z" fill="#0000ff"/>
<path d="M234.90 106.65L236.95 109.70L234.90 112.75L232.85 109.70Z" fill="#0000ff"/>
<path d="M243.85 107.40L245.90 110.45L243.85 113.50L241.80 110.45Z" fill="#0000ff"/>
<path d="M237.20 24.60L239.25 27.65L237.20 30.70L235.15 27.65Z" fill="#b22222"/>
<path d="M249.20 29.70L251.25 32.75L249.20 35.80L247.15 32.75Z" fill="#b22222"/>
<rect x="155.45" y="22.55" width="98.0" height="105.25" fill="none" stroke="#000" stroke-width="0.62"/>
<rect x="257.80" y="22.55" width="5.3" height="105.25" fill="url(#cg)" stroke="#000" stroke-width="0.62"/>
<line x1="263.10" y1="127.80" x2="265.50" y2="127.80" stroke="#000" stroke-width="0.75"/>
<text x="267.60" y="130.50" font-size="6.5" class="t">0.00</text>
<line x1="263.10" y1="102.54" x2="265.50" y2="102.54" stroke="#000" stroke-width="0.75"/>
<text x="267.60" y="105.24" font-size="6.5" class="t">0.02</text>
<line x1="263.10" y1="77.28" x2="265.50" y2="77.28" stroke="#000" stroke-width="0.75"/>
<text x="267.60" y="79.98" font-size="6.5" class="t">0.04</text>
<line x1="263.10" y1="52.02" x2="265.50" y2="52.02" stroke="#000" stroke-width="0.75"/>
<text x="267.60" y="54.72" font-size="6.5" class="t">0.06</text>
<line x1="263.10" y1="26.76" x2="265.50" y2="26.76" stroke="#000" stroke-width="0.75"/>
<text x="267.60" y="29.46" font-size="6.5" class="t">0.08</text>
<text transform="translate(204.45 18.6) scale(1.065 1)" font-size="10.3" text-anchor="middle">UOT(m=3, <tspan font-style="italic">τ</tspan>=0.05)</text>
<rect x="155.45" y="161.50" width="8.22" height="8.22" fill="rgb(244,244,244)"/>
<rect x="163.62" y="161.50" width="8.22" height="8.22" fill="rgb(246,246,246)"/>
<rect x="171.78" y="161.50" width="8.22" height="8.22" fill="rgb(246,246,246)"/>
<rect x="179.95" y="161.50" width="8.22" height="8.22" fill="rgb(248,248,248)"/>
<rect x="188.12" y="161.50" width="8.22" height="8.22" fill="rgb(248,248,248)"/>
<rect x="196.28" y="161.50" width="8.22" height="8.22" fill="rgb(246,246,246)"/>
<rect x="204.45" y="161.50" width="8.22" height="8.22" fill="rgb(246,246,246)"/>
<rect x="212.62" y="161.50" width="8.22" height="8.22" fill="rgb(244,244,244)"/>
<rect x="220.78" y="161.50" width="8.22" height="8.22" fill="rgb(244,244,244)"/>
<rect x="228.95" y="161.50" width="8.22" height="8.22" fill="rgb(246,246,246)"/>
<rect x="155.45" y="169.67" width="8.22" height="8.22" fill="rgb(236,236,236)"/>
<rect x="163.62" y="169.67" width="8.22" height="8.22" fill="rgb(244,244,244)"/>
<rect x="171.78" y="169.67" width="8.22" height="8.22" fill="rgb(238,238,238)"/>
<rect x="179.95" y="169.67" width="8.22" height="8.22" fill="rgb(244,244,244)"/>
<rect x="188.12" y="169.67" width="8.22" height="8.22" fill="rgb(242,242,242)"/>
<rect x="196.28" y="169.67" width="8.22" height="8.22" fill="rgb(240,240,240)"/>
<rect x="204.45" y="169.67" width="8.22" height="8.22" fill="rgb(240,240,240)"/>
<rect x="212.62" y="169.67" width="8.22" height="8.22" fill="rgb(234,234,234)"/>
<rect x="220.78" y="169.67" width="8.22" height="8.22" fill="rgb(238,238,238)"/>
<rect x="228.95" y="169.67" width="8.22" height="8.22" fill="rgb(244,244,244)"/>
<rect x="155.45" y="177.83" width="8.22" height="8.22" fill="rgb(238,238,238)"/>
<rect x="163.62" y="177.83" width="8.22" height="8.22" fill="rgb(244,244,244)"/>
<rect x="171.78" y="177.83" width="8.22" height="8.22" fill="rgb(242,242,242)"/>
<rect x="179.95" y="177.83" width="8.22" height="8.22" fill="rgb(244,244,244)"/>
<rect x="188.12" y="177.83" width="8.22" height="8.22" fill="rgb(244,244,244)"/>
<rect x="196.28" y="177.83" width="8.22" height="8.22" fill="rgb(240,240,240)"/>
<rect x="204.45" y="177.83" width="8.22" height="8.22" fill="rgb(240,240,240)"/>
<rect x="212.62" y="177.83" width="8.22" height="8.22" fill="rgb(236,236,236)"/>
<rect x="220.78" y="177.83" width="8.22" height="8.22" fill="rgb(238,238,238)"/>
<rect x="228.95" y="177.83" width="8.22" height="8.22" fill="rgb(244,244,244)"/>
<rect x="155.45" y="186.00" width="8.22" height="8.22" fill="rgb(248,248,248)"/>
<rect x="163.62" y="186.00" width="8.22" height="8.22" fill="rgb(250,250,250)"/>
<rect x="171.78" y="186.00" width="8.22" height="8.22" fill="rgb(250,250,250)"/>
<rect x="179.95" y="186.00" width="8.22" height="8.22" fill="rgb(250,250,250)"/>
<rect x="188.12" y="186.00" width="8.22" height="8.22" fill="rgb(250,250,250)"/>
<rect x="196.28" y="186.00" width="8.22" height="8.22" fill="rgb(250,250,250)"/>
<rect x="204.45" y="186.00" width="8.22" height="8.22" fill="rgb(250,250,250)"/>
<rect x="212.62" y="186.00" width="8.22" height="8.22" fill="rgb(248,248,248)"/>
<rect x="220.78" y="186.00" width="8.22" height="8.22" fill="rgb(248,248,248)"/>
<rect x="228.95" y="186.00" width="8.22" height="8.22" fill="rgb(250,250,250)"/>
<rect x="171.78" y="194.17" width="8.22" height="8.22" fill="rgb(252,252,252)"/>
<rect x="237.12" y="194.17" width="8.22" height="8.22" fill="rgb(228,228,228)"/>
<rect x="245.28" y="194.17" width="8.22" height="8.22" fill="rgb(236,236,236)"/>
<rect x="237.12" y="202.33" width="8.22" height="8.22" fill="rgb(226,226,226)"/>
<rect x="245.28" y="202.33" width="8.22" height="8.22" fill="rgb(234,234,234)"/>
<rect x="237.12" y="210.50" width="8.22" height="8.22" fill="rgb(236,236,236)"/>
<rect x="245.28" y="210.50" width="8.22" height="8.22" fill="rgb(242,242,242)"/>
<rect x="237.12" y="218.67" width="8.22" height="8.22" fill="rgb(242,242,242)"/>
<rect x="245.28" y="218.67" width="8.22" height="8.22" fill="rgb(246,246,246)"/>
<rect x="155.45" y="226.83" width="8.22" height="8.22" fill="rgb(252,252,252)"/>
<rect x="212.62" y="226.83" width="8.22" height="8.22" fill="rgb(252,252,252)"/>
<rect x="220.78" y="226.83" width="8.22" height="8.22" fill="rgb(252,252,252)"/>
<rect x="155.45" y="235.00" width="8.22" height="8.22" fill="rgb(252,252,252)"/>
<rect x="212.62" y="235.00" width="8.22" height="8.22" fill="rgb(252,252,252)"/>
<rect x="220.78" y="235.00" width="8.22" height="8.22" fill="rgb(252,252,252)"/>
<rect x="155.45" y="243.17" width="8.22" height="8.22" fill="rgb(250,250,250)"/>
<rect x="171.78" y="243.17" width="8.22" height="8.22" fill="rgb(252,252,252)"/>
<rect x="196.28" y="243.17" width="8.22" height="8.22" fill="rgb(252,252,252)"/>
<rect x="204.45" y="243.17" width="8.22" height="8.22" fill="rgb(252,252,252)"/>
<rect x="212.62" y="243.17" width="8.22" height="8.22" fill="rgb(250,250,250)"/>
<rect x="220.78" y="243.17" width="8.22" height="8.22" fill="rgb(252,252,252)"/>
<rect x="212.62" y="251.33" width="8.22" height="8.22" fill="rgb(253,253,253)"/>
<rect x="155.45" y="161.50" width="98.0" height="98.0" fill="none" stroke="#000" stroke-width="0.62"/>
<rect x="257.80" y="161.50" width="5.3" height="98.00" fill="url(#cg)" stroke="#000" stroke-width="0.62"/>
<line x1="263.10" y1="259.50" x2="265.50" y2="259.50" stroke="#000" stroke-width="0.75"/>
<text x="267.60" y="262.20" font-size="6.5" class="t">0.00</text>
<line x1="263.10" y1="235.98" x2="265.50" y2="235.98" stroke="#000" stroke-width="0.75"/>
<text x="267.60" y="238.68" font-size="6.5" class="t">0.02</text>
<line x1="263.10" y1="212.46" x2="265.50" y2="212.46" stroke="#000" stroke-width="0.75"/>
<text x="267.60" y="215.16" font-size="6.5" class="t">0.04</text>
<line x1="263.10" y1="188.94" x2="265.50" y2="188.94" stroke="#000" stroke-width="0.75"/>
<text x="267.60" y="191.64" font-size="6.5" class="t">0.06</text>
<line x1="263.10" y1="165.42" x2="265.50" y2="165.42" stroke="#000" stroke-width="0.75"/>
<text x="267.60" y="168.12" font-size="6.5" class="t">0.08</text>
<text transform="translate(204.45 157.6) scale(1.06 1)" font-size="10.3" text-anchor="middle">||Π||<tspan font-size="7.21" dx="0.8" dy="1.5">1</tspan><tspan dy="-1.5">=</tspan>0.2</text>
<g>
<line x1="315.55" y1="114.10" x2="378.80" y2="122.90" stroke="#000" stroke-opacity="0.278" stroke-width="1.2"/>
<line x1="315.55" y1="114.10" x2="369.60" y2="115.40" stroke="#000" stroke-opacity="0.278" stroke-width="1.2"/>
<line x1="315.55" y1="114.10" x2="379.50" y2="118.10" stroke="#000" stroke-opacity="0.373" stroke-width="1.2"/>
<line x1="315.55" y1="114.10" x2="370.20" y2="109.70" stroke="#000" stroke-opacity="0.020" stroke-width="1.2"/>
<line x1="315.55" y1="114.10" x2="379.15" y2="110.45" stroke="#000" stroke-opacity="0.043" stroke-width="1.2"/>
<line x1="324.65" y1="100.40" x2="378.80" y2="122.90" stroke="#000" stroke-opacity="0.020" stroke-width="1.2"/>
<line x1="324.65" y1="100.40" x2="369.60" y2="115.40" stroke="#000" stroke-opacity="0.106" stroke-width="1.2"/>
<line x1="324.65" y1="100.40" x2="374.80" y2="115.60" stroke="#000" stroke-opacity="0.451" stroke-width="1.2"/>
<line x1="324.65" y1="100.40" x2="379.50" y2="118.10" stroke="#000" stroke-opacity="0.067" stroke-width="1.2"/>
<line x1="324.65" y1="100.40" x2="375.60" y2="109.10" stroke="#000" stroke-opacity="0.035" stroke-width="1.2"/>
<line x1="324.65" y1="100.40" x2="379.15" y2="110.45" stroke="#000" stroke-opacity="0.333" stroke-width="1.2"/>
<line x1="322.25" y1="107.80" x2="369.20" y2="108.70" stroke="#000" stroke-opacity="0.059" stroke-width="1.2"/>
<line x1="322.25" y1="107.80" x2="369.60" y2="115.40" stroke="#000" stroke-opacity="0.569" stroke-width="1.2"/>
<line x1="322.25" y1="107.80" x2="374.80" y2="115.60" stroke="#000" stroke-opacity="0.090" stroke-width="1.2"/>
<line x1="322.25" y1="107.80" x2="379.50" y2="118.10" stroke="#000" stroke-opacity="0.106" stroke-width="1.2"/>
<line x1="322.25" y1="107.80" x2="379.15" y2="110.45" stroke="#000" stroke-opacity="0.200" stroke-width="1.2"/>
<line x1="311.05" y1="117.70" x2="378.80" y2="122.90" stroke="#000" stroke-opacity="0.647" stroke-width="1.2"/>
<line x1="311.05" y1="117.70" x2="369.60" y2="115.40" stroke="#000" stroke-opacity="0.035" stroke-width="1.2"/>
<line x1="311.05" y1="117.70" x2="379.50" y2="118.10" stroke="#000" stroke-opacity="0.153" stroke-width="1.2"/>
<line x1="311.05" y1="117.70" x2="370.20" y2="109.70" stroke="#000" stroke-opacity="0.169" stroke-width="1.2"/>
<line x1="329.45" y1="38.00" x2="378.20" y2="103.40" stroke="#000" stroke-opacity="0.310" stroke-width="1.2"/>
<line x1="329.45" y1="38.00" x2="374.80" y2="115.60" stroke="#000" stroke-opacity="0.373" stroke-width="1.2"/>
<line x1="329.45" y1="38.00" x2="375.60" y2="109.10" stroke="#000" stroke-opacity="0.020" stroke-width="1.2"/>
<line x1="329.45" y1="38.00" x2="379.15" y2="110.45" stroke="#000" stroke-opacity="0.043" stroke-width="1.2"/>
<line x1="329.45" y1="38.00" x2="384.50" y2="32.75" stroke="#000" stroke-opacity="0.294" stroke-width="1.2"/>
<line x1="326.45" y1="33.20" x2="378.20" y2="103.40" stroke="#000" stroke-opacity="0.059" stroke-width="1.2"/>
<line x1="326.45" y1="33.20" x2="372.50" y2="27.65" stroke="#000" stroke-opacity="0.341" stroke-width="1.2"/>
<line x1="326.45" y1="33.20" x2="384.50" y2="32.75" stroke="#000" stroke-opacity="0.624" stroke-width="1.2"/>
<line x1="320.05" y1="36.50" x2="378.20" y2="103.40" stroke="#000" stroke-opacity="0.184" stroke-width="1.2"/>
<line x1="320.05" y1="36.50" x2="374.80" y2="115.60" stroke="#000" stroke-opacity="0.027" stroke-width="1.2"/>
<line x1="320.05" y1="36.50" x2="375.60" y2="109.10" stroke="#000" stroke-opacity="0.075" stroke-width="1.2"/>
<line x1="320.05" y1="36.50" x2="379.15" y2="110.45" stroke="#000" stroke-opacity="0.027" stroke-width="1.2"/>
<line x1="320.05" y1="36.50" x2="372.50" y2="27.65" stroke="#000" stroke-opacity="0.561" stroke-width="1.2"/>
<line x1="320.05" y1="36.50" x2="384.50" y2="32.75" stroke="#000" stroke-opacity="0.090" stroke-width="1.2"/>
<line x1="313.85" y1="38.40" x2="378.20" y2="103.40" stroke="#000" stroke-opacity="0.333" stroke-width="1.2"/>
<line x1="313.85" y1="38.40" x2="374.80" y2="115.60" stroke="#000" stroke-opacity="0.027" stroke-width="1.2"/>
<line x1="313.85" y1="38.40" x2="375.60" y2="109.10" stroke="#000" stroke-opacity="0.435" stroke-width="1.2"/>
<line x1="313.85" y1="38.40" x2="380.05" y2="111.15" stroke="#000" stroke-opacity="0.075" stroke-width="1.2"/>
<line x1="313.85" y1="38.40" x2="379.15" y2="110.45" stroke="#000" stroke-opacity="0.035" stroke-width="1.2"/>
<line x1="313.85" y1="38.40" x2="372.50" y2="27.65" stroke="#000" stroke-opacity="0.090" stroke-width="1.2"/>
<line x1="295.00" y1="73.70" x2="369.20" y2="108.70" stroke="#000" stroke-opacity="0.451" stroke-width="1.2"/>
<line x1="295.00" y1="73.70" x2="378.20" y2="103.40" stroke="#000" stroke-opacity="0.012" stroke-width="1.2"/>
<line x1="295.00" y1="73.70" x2="375.60" y2="109.10" stroke="#000" stroke-opacity="0.106" stroke-width="1.2"/>
<line x1="295.00" y1="73.70" x2="380.05" y2="111.15" stroke="#000" stroke-opacity="0.247" stroke-width="1.2"/>
<line x1="295.00" y1="73.70" x2="370.20" y2="109.70" stroke="#000" stroke-opacity="0.122" stroke-width="1.2"/>
<line x1="295.00" y1="73.70" x2="379.15" y2="110.45" stroke="#000" stroke-opacity="0.043" stroke-width="1.2"/>
<line x1="295.20" y1="79.70" x2="369.20" y2="108.70" stroke="#000" stroke-opacity="0.341" stroke-width="1.2"/>
<line x1="295.20" y1="79.70" x2="379.50" y2="118.10" stroke="#000" stroke-opacity="0.129" stroke-width="1.2"/>
<line x1="295.20" y1="79.70" x2="375.60" y2="109.10" stroke="#000" stroke-opacity="0.027" stroke-width="1.2"/>
<line x1="295.20" y1="79.70" x2="380.05" y2="111.15" stroke="#000" stroke-opacity="0.051" stroke-width="1.2"/>
<line x1="295.20" y1="79.70" x2="370.20" y2="109.70" stroke="#000" stroke-opacity="0.451" stroke-width="1.2"/>
<line x1="295.20" y1="79.70" x2="379.15" y2="110.45" stroke="#000" stroke-opacity="0.027" stroke-width="1.2"/>
<line x1="295.90" y1="81.70" x2="369.20" y2="108.70" stroke="#000" stroke-opacity="0.075" stroke-width="1.2"/>
<line x1="295.90" y1="81.70" x2="378.20" y2="103.40" stroke="#000" stroke-opacity="0.027" stroke-width="1.2"/>
<line x1="295.90" y1="81.70" x2="369.60" y2="115.40" stroke="#000" stroke-opacity="0.027" stroke-width="1.2"/>
<line x1="295.90" y1="81.70" x2="374.80" y2="115.60" stroke="#000" stroke-opacity="0.043" stroke-width="1.2"/>
<line x1="295.90" y1="81.70" x2="379.50" y2="118.10" stroke="#000" stroke-opacity="0.184" stroke-width="1.2"/>
<line x1="295.90" y1="81.70" x2="375.60" y2="109.10" stroke="#000" stroke-opacity="0.184" stroke-width="1.2"/>
<line x1="295.90" y1="81.70" x2="370.20" y2="109.70" stroke="#000" stroke-opacity="0.184" stroke-width="1.2"/>
<line x1="295.90" y1="81.70" x2="379.15" y2="110.45" stroke="#000" stroke-opacity="0.216" stroke-width="1.2"/>
<line x1="300.00" y1="83.70" x2="369.20" y2="108.70" stroke="#000" stroke-opacity="0.137" stroke-width="1.2"/>
<line x1="300.00" y1="83.70" x2="378.20" y2="103.40" stroke="#000" stroke-opacity="0.067" stroke-width="1.2"/>
<line x1="300.00" y1="83.70" x2="375.60" y2="109.10" stroke="#000" stroke-opacity="0.059" stroke-width="1.2"/>
<line x1="300.00" y1="83.70" x2="380.05" y2="111.15" stroke="#000" stroke-opacity="0.686" stroke-width="1.2"/>
</g>
<circle cx="315.55" cy="114.10" r="2.2" fill="#0000ff"/>
<circle cx="324.65" cy="100.40" r="2.2" fill="#0000ff"/>
<circle cx="322.25" cy="107.80" r="2.2" fill="#0000ff"/>
<circle cx="311.05" cy="117.70" r="2.2" fill="#0000ff"/>
<circle cx="329.45" cy="38.00" r="2.2" fill="#b22222"/>
<circle cx="326.45" cy="33.20" r="2.2" fill="#b22222"/>
<circle cx="320.05" cy="36.50" r="2.2" fill="#b22222"/>
<circle cx="313.85" cy="38.40" r="2.2" fill="#b22222"/>
<circle cx="295.00" cy="73.70" r="2.2" fill="#008000"/>
<circle cx="295.20" cy="79.70" r="2.2" fill="#008000"/>
<circle cx="295.90" cy="81.70" r="2.2" fill="#008000"/>
<circle cx="300.00" cy="83.70" r="2.2" fill="#008000"/>
<path d="M369.20 105.65L371.25 108.70L369.20 111.75L367.15 108.70Z" fill="#0000ff"/>
<path d="M378.80 119.85L380.85 122.90L378.80 125.95L376.75 122.90Z" fill="#0000ff"/>
<path d="M378.20 100.35L380.25 103.40L378.20 106.45L376.15 103.40Z" fill="#0000ff"/>
<path d="M369.60 112.35L371.65 115.40L369.60 118.45L367.55 115.40Z" fill="#0000ff"/>
<path d="M374.80 112.55L376.85 115.60L374.80 118.65L372.75 115.60Z" fill="#0000ff"/>
<path d="M379.50 115.05L381.55 118.10L379.50 121.15L377.45 118.10Z" fill="#0000ff"/>
<path d="M375.60 106.05L377.65 109.10L375.60 112.15L373.55 109.10Z" fill="#0000ff"/>
<path d="M380.05 108.10L382.10 111.15L380.05 114.20L378.00 111.15Z" fill="#0000ff"/>
<path d="M370.20 106.65L372.25 109.70L370.20 112.75L368.15 109.70Z" fill="#0000ff"/>
<path d="M379.15 107.40L381.20 110.45L379.15 113.50L377.10 110.45Z" fill="#0000ff"/>
<path d="M372.50 24.60L374.55 27.65L372.50 30.70L370.45 27.65Z" fill="#b22222"/>
<path d="M384.50 29.70L386.55 32.75L384.50 35.80L382.45 32.75Z" fill="#b22222"/>
<rect x="290.75" y="22.55" width="98.0" height="105.25" fill="none" stroke="#000" stroke-width="0.62"/>
<rect x="393.10" y="22.55" width="5.3" height="105.25" fill="url(#cg)" stroke="#000" stroke-width="0.62"/>
<line x1="398.40" y1="127.80" x2="400.80" y2="127.80" stroke="#000" stroke-width="0.75"/>
<text x="402.90" y="130.50" font-size="6.5" class="t">0.00</text>
<line x1="398.40" y1="102.54" x2="400.80" y2="102.54" stroke="#000" stroke-width="0.75"/>
<text x="402.90" y="105.24" font-size="6.5" class="t">0.02</text>
<line x1="398.40" y1="77.28" x2="400.80" y2="77.28" stroke="#000" stroke-width="0.75"/>
<text x="402.90" y="79.98" font-size="6.5" class="t">0.04</text>
<line x1="398.40" y1="52.02" x2="400.80" y2="52.02" stroke="#000" stroke-width="0.75"/>
<text x="402.90" y="54.72" font-size="6.5" class="t">0.06</text>
<line x1="398.40" y1="26.76" x2="400.80" y2="26.76" stroke="#000" stroke-width="0.75"/>
<text x="402.90" y="29.46" font-size="6.5" class="t">0.08</text>
<text transform="translate(339.75 18.6) scale(1.065 1)" font-size="10.3" text-anchor="middle">OT(m=9)</text>
<rect x="298.92" y="161.50" width="8.22" height="8.22" fill="rgb(184,184,184)"/>
<rect x="315.25" y="161.50" width="8.22" height="8.22" fill="rgb(184,184,184)"/>
<rect x="331.58" y="161.50" width="8.22" height="8.22" fill="rgb(160,160,160)"/>
<rect x="356.08" y="161.50" width="8.22" height="8.22" fill="rgb(250,250,250)"/>
<rect x="364.25" y="161.50" width="8.22" height="8.22" fill="rgb(244,244,244)"/>
<rect x="298.92" y="169.67" width="8.22" height="8.22" fill="rgb(250,250,250)"/>
<rect x="315.25" y="169.67" width="8.22" height="8.22" fill="rgb(228,228,228)"/>
<rect x="323.42" y="169.67" width="8.22" height="8.22" fill="rgb(140,140,140)"/>
<rect x="331.58" y="169.67" width="8.22" height="8.22" fill="rgb(238,238,238)"/>
<rect x="339.75" y="169.67" width="8.22" height="8.22" fill="rgb(246,246,246)"/>
<rect x="364.25" y="169.67" width="8.22" height="8.22" fill="rgb(170,170,170)"/>
<rect x="290.75" y="177.83" width="8.22" height="8.22" fill="rgb(240,240,240)"/>
<rect x="315.25" y="177.83" width="8.22" height="8.22" fill="rgb(110,110,110)"/>
<rect x="323.42" y="177.83" width="8.22" height="8.22" fill="rgb(232,232,232)"/>
<rect x="331.58" y="177.83" width="8.22" height="8.22" fill="rgb(228,228,228)"/>
<rect x="364.25" y="177.83" width="8.22" height="8.22" fill="rgb(204,204,204)"/>
<rect x="298.92" y="186.00" width="8.22" height="8.22" fill="rgb(90,90,90)"/>
<rect x="315.25" y="186.00" width="8.22" height="8.22" fill="rgb(246,246,246)"/>
<rect x="331.58" y="186.00" width="8.22" height="8.22" fill="rgb(216,216,216)"/>
<rect x="356.08" y="186.00" width="8.22" height="8.22" fill="rgb(212,212,212)"/>
<rect x="307.08" y="194.17" width="8.22" height="8.22" fill="rgb(176,176,176)"/>
<rect x="323.42" y="194.17" width="8.22" height="8.22" fill="rgb(160,160,160)"/>
<rect x="339.75" y="194.17" width="8.22" height="8.22" fill="rgb(250,250,250)"/>
<rect x="364.25" y="194.17" width="8.22" height="8.22" fill="rgb(244,244,244)"/>
<rect x="380.58" y="194.17" width="8.22" height="8.22" fill="rgb(180,180,180)"/>
<rect x="307.08" y="202.33" width="8.22" height="8.22" fill="rgb(240,240,240)"/>
<rect x="372.42" y="202.33" width="8.22" height="8.22" fill="rgb(168,168,168)"/>
<rect x="380.58" y="202.33" width="8.22" height="8.22" fill="rgb(96,96,96)"/>
<rect x="307.08" y="210.50" width="8.22" height="8.22" fill="rgb(208,208,208)"/>
<rect x="323.42" y="210.50" width="8.22" height="8.22" fill="rgb(248,248,248)"/>
<rect x="339.75" y="210.50" width="8.22" height="8.22" fill="rgb(236,236,236)"/>
<rect x="364.25" y="210.50" width="8.22" height="8.22" fill="rgb(248,248,248)"/>
<rect x="372.42" y="210.50" width="8.22" height="8.22" fill="rgb(112,112,112)"/>
<rect x="380.58" y="210.50" width="8.22" height="8.22" fill="rgb(232,232,232)"/>
<rect x="307.08" y="218.67" width="8.22" height="8.22" fill="rgb(170,170,170)"/>
<rect x="323.42" y="218.67" width="8.22" height="8.22" fill="rgb(248,248,248)"/>
<rect x="339.75" y="218.67" width="8.22" height="8.22" fill="rgb(144,144,144)"/>
<rect x="347.92" y="218.67" width="8.22" height="8.22" fill="rgb(236,236,236)"/>
<rect x="364.25" y="218.67" width="8.22" height="8.22" fill="rgb(246,246,246)"/>
<rect x="372.42" y="218.67" width="8.22" height="8.22" fill="rgb(232,232,232)"/>
<rect x="290.75" y="226.83" width="8.22" height="8.22" fill="rgb(140,140,140)"/>
<rect x="307.08" y="226.83" width="8.22" height="8.22" fill="rgb(252,252,252)"/>
<rect x="339.75" y="226.83" width="8.22" height="8.22" fill="rgb(228,228,228)"/>
<rect x="347.92" y="226.83" width="8.22" height="8.22" fill="rgb(192,192,192)"/>
<rect x="356.08" y="226.83" width="8.22" height="8.22" fill="rgb(224,224,224)"/>
<rect x="364.25" y="226.83" width="8.22" height="8.22" fill="rgb(244,244,244)"/>
<rect x="290.75" y="235.00" width="8.22" height="8.22" fill="rgb(168,168,168)"/>
<rect x="331.58" y="235.00" width="8.22" height="8.22" fill="rgb(222,222,222)"/>
<rect x="339.75" y="235.00" width="8.22" height="8.22" fill="rgb(248,248,248)"/>
<rect x="347.92" y="235.00" width="8.22" height="8.22" fill="rgb(242,242,242)"/>
<rect x="356.08" y="235.00" width="8.22" height="8.22" fill="rgb(140,140,140)"/>
<rect x="364.25" y="235.00" width="8.22" height="8.22" fill="rgb(248,248,248)"/>
<rect x="290.75" y="243.17" width="8.22" height="8.22" fill="rgb(236,236,236)"/>
<rect x="307.08" y="243.17" width="8.22" height="8.22" fill="rgb(248,248,248)"/>
<rect x="315.25" y="243.17" width="8.22" height="8.22" fill="rgb(248,248,248)"/>
<rect x="323.42" y="243.17" width="8.22" height="8.22" fill="rgb(244,244,244)"/>
<rect x="331.58" y="243.17" width="8.22" height="8.22" fill="rgb(208,208,208)"/>
<rect x="339.75" y="243.17" width="8.22" height="8.22" fill="rgb(208,208,208)"/>
<rect x="356.08" y="243.17" width="8.22" height="8.22" fill="rgb(208,208,208)"/>
<rect x="364.25" y="243.17" width="8.22" height="8.22" fill="rgb(200,200,200)"/>
<rect x="290.75" y="251.33" width="8.22" height="8.22" fill="rgb(220,220,220)"/>
<rect x="307.08" y="251.33" width="8.22" height="8.22" fill="rgb(238,238,238)"/>
<rect x="339.75" y="251.33" width="8.22" height="8.22" fill="rgb(240,240,240)"/>
<rect x="347.92" y="251.33" width="8.22" height="8.22" fill="rgb(80,80,80)"/>
<rect x="290.75" y="161.50" width="98.0" height="98.0" fill="none" stroke="#000" stroke-width="0.62"/>
<rect x="393.10" y="161.50" width="5.3" height="98.00" fill="url(#cg)" stroke="#000" stroke-width="0.62"/>
<line x1="398.40" y1="259.50" x2="400.80" y2="259.50" stroke="#000" stroke-width="0.75"/>
<text x="402.90" y="262.20" font-size="6.5" class="t">0.00</text>
<line x1="398.40" y1="235.98" x2="400.80" y2="235.98" stroke="#000" stroke-width="0.75"/>
<text x="402.90" y="238.68" font-size="6.5" class="t">0.02</text>
<line x1="398.40" y1="212.46" x2="400.80" y2="212.46" stroke="#000" stroke-width="0.75"/>
<text x="402.90" y="215.16" font-size="6.5" class="t">0.04</text>
<line x1="398.40" y1="188.94" x2="400.80" y2="188.94" stroke="#000" stroke-width="0.75"/>
<text x="402.90" y="191.64" font-size="6.5" class="t">0.06</text>
<line x1="398.40" y1="165.42" x2="400.80" y2="165.42" stroke="#000" stroke-width="0.75"/>
<text x="402.90" y="168.12" font-size="6.5" class="t">0.08</text>
<text transform="translate(339.75 157.6) scale(1.06 1)" font-size="10.3" text-anchor="middle">||Π||<tspan font-size="7.21" dx="0.8" dy="1.5">1</tspan><tspan dy="-1.5">=</tspan>1.0</text>
<g>
<line x1="451.05" y1="114.10" x2="504.70" y2="108.70" stroke="#000" stroke-opacity="0.106" stroke-width="1.2"/>
<line x1="451.05" y1="114.10" x2="514.30" y2="122.90" stroke="#000" stroke-opacity="0.067" stroke-width="1.2"/>
<line x1="451.05" y1="114.10" x2="513.70" y2="103.40" stroke="#000" stroke-opacity="0.059" stroke-width="1.2"/>
<line x1="451.05" y1="114.10" x2="505.10" y2="115.40" stroke="#000" stroke-opacity="0.051" stroke-width="1.2"/>
<line x1="451.05" y1="114.10" x2="510.30" y2="115.60" stroke="#000" stroke-opacity="0.051" stroke-width="1.2"/>
<line x1="451.05" y1="114.10" x2="515.00" y2="118.10" stroke="#000" stroke-opacity="0.090" stroke-width="1.2"/>
<line x1="451.05" y1="114.10" x2="511.10" y2="109.10" stroke="#000" stroke-opacity="0.075" stroke-width="1.2"/>
<line x1="451.05" y1="114.10" x2="515.55" y2="111.15" stroke="#000" stroke-opacity="0.122" stroke-width="1.2"/>
<line x1="451.05" y1="114.10" x2="505.70" y2="109.70" stroke="#000" stroke-opacity="0.122" stroke-width="1.2"/>
<line x1="451.05" y1="114.10" x2="514.65" y2="110.45" stroke="#000" stroke-opacity="0.075" stroke-width="1.2"/>
<line x1="460.15" y1="100.40" x2="504.70" y2="108.70" stroke="#000" stroke-opacity="0.184" stroke-width="1.2"/>
<line x1="460.15" y1="100.40" x2="514.30" y2="122.90" stroke="#000" stroke-opacity="0.098" stroke-width="1.2"/>
<line x1="460.15" y1="100.40" x2="513.70" y2="103.40" stroke="#000" stroke-opacity="0.153" stroke-width="1.2"/>
<line x1="460.15" y1="100.40" x2="505.10" y2="115.40" stroke="#000" stroke-opacity="0.106" stroke-width="1.2"/>
<line x1="460.15" y1="100.40" x2="510.30" y2="115.60" stroke="#000" stroke-opacity="0.114" stroke-width="1.2"/>
<line x1="460.15" y1="100.40" x2="515.00" y2="118.10" stroke="#000" stroke-opacity="0.153" stroke-width="1.2"/>
<line x1="460.15" y1="100.40" x2="511.10" y2="109.10" stroke="#000" stroke-opacity="0.153" stroke-width="1.2"/>
<line x1="460.15" y1="100.40" x2="515.55" y2="111.15" stroke="#000" stroke-opacity="0.224" stroke-width="1.2"/>
<line x1="460.15" y1="100.40" x2="505.70" y2="109.70" stroke="#000" stroke-opacity="0.169" stroke-width="1.2"/>
<line x1="460.15" y1="100.40" x2="514.65" y2="110.45" stroke="#000" stroke-opacity="0.122" stroke-width="1.2"/>
<line x1="457.75" y1="107.80" x2="504.70" y2="108.70" stroke="#000" stroke-opacity="0.184" stroke-width="1.2"/>
<line x1="457.75" y1="107.80" x2="514.30" y2="122.90" stroke="#000" stroke-opacity="0.114" stroke-width="1.2"/>
<line x1="457.75" y1="107.80" x2="513.70" y2="103.40" stroke="#000" stroke-opacity="0.122" stroke-width="1.2"/>
<line x1="457.75" y1="107.80" x2="505.10" y2="115.40" stroke="#000" stroke-opacity="0.114" stroke-width="1.2"/>
<line x1="457.75" y1="107.80" x2="510.30" y2="115.60" stroke="#000" stroke-opacity="0.114" stroke-width="1.2"/>
<line x1="457.75" y1="107.80" x2="515.00" y2="118.10" stroke="#000" stroke-opacity="0.153" stroke-width="1.2"/>
<line x1="457.75" y1="107.80" x2="511.10" y2="109.10" stroke="#000" stroke-opacity="0.145" stroke-width="1.2"/>
<line x1="457.75" y1="107.80" x2="515.55" y2="111.15" stroke="#000" stroke-opacity="0.192" stroke-width="1.2"/>
<line x1="457.75" y1="107.80" x2="505.70" y2="109.70" stroke="#000" stroke-opacity="0.184" stroke-width="1.2"/>
<line x1="457.75" y1="107.80" x2="514.65" y2="110.45" stroke="#000" stroke-opacity="0.114" stroke-width="1.2"/>
<line x1="446.55" y1="117.70" x2="504.70" y2="108.70" stroke="#000" stroke-opacity="0.067" stroke-width="1.2"/>
<line x1="446.55" y1="117.70" x2="514.30" y2="122.90" stroke="#000" stroke-opacity="0.043" stroke-width="1.2"/>
<line x1="446.55" y1="117.70" x2="513.70" y2="103.40" stroke="#000" stroke-opacity="0.035" stroke-width="1.2"/>
<line x1="446.55" y1="117.70" x2="505.10" y2="115.40" stroke="#000" stroke-opacity="0.035" stroke-width="1.2"/>
<line x1="446.55" y1="117.70" x2="510.30" y2="115.60" stroke="#000" stroke-opacity="0.035" stroke-width="1.2"/>
<line x1="446.55" y1="117.70" x2="515.00" y2="118.10" stroke="#000" stroke-opacity="0.051" stroke-width="1.2"/>
<line x1="446.55" y1="117.70" x2="511.10" y2="109.10" stroke="#000" stroke-opacity="0.051" stroke-width="1.2"/>
<line x1="446.55" y1="117.70" x2="515.55" y2="111.15" stroke="#000" stroke-opacity="0.075" stroke-width="1.2"/>
<line x1="446.55" y1="117.70" x2="505.70" y2="109.70" stroke="#000" stroke-opacity="0.075" stroke-width="1.2"/>
<line x1="446.55" y1="117.70" x2="514.65" y2="110.45" stroke="#000" stroke-opacity="0.035" stroke-width="1.2"/>
<line x1="464.95" y1="38.00" x2="508.00" y2="27.65" stroke="#000" stroke-opacity="0.388" stroke-width="1.2"/>
<line x1="464.95" y1="38.00" x2="520.00" y2="32.75" stroke="#000" stroke-opacity="0.184" stroke-width="1.2"/>
<line x1="461.95" y1="33.20" x2="508.00" y2="27.65" stroke="#000" stroke-opacity="0.373" stroke-width="1.2"/>
<line x1="461.95" y1="33.20" x2="520.00" y2="32.75" stroke="#000" stroke-opacity="0.169" stroke-width="1.2"/>
<line x1="455.55" y1="36.50" x2="508.00" y2="27.65" stroke="#000" stroke-opacity="0.216" stroke-width="1.2"/>
<line x1="455.55" y1="36.50" x2="520.00" y2="32.75" stroke="#000" stroke-opacity="0.106" stroke-width="1.2"/>
<line x1="449.35" y1="38.40" x2="508.00" y2="27.65" stroke="#000" stroke-opacity="0.153" stroke-width="1.2"/>
<line x1="449.35" y1="38.40" x2="520.00" y2="32.75" stroke="#000" stroke-opacity="0.067" stroke-width="1.2"/>
<line x1="430.50" y1="73.70" x2="504.70" y2="108.70" stroke="#000" stroke-opacity="0.020" stroke-width="1.2"/>
<line x1="430.50" y1="73.70" x2="513.70" y2="103.40" stroke="#000" stroke-opacity="0.020" stroke-width="1.2"/>
<line x1="430.50" y1="73.70" x2="511.10" y2="109.10" stroke="#000" stroke-opacity="0.020" stroke-width="1.2"/>
<line x1="430.50" y1="73.70" x2="515.55" y2="111.15" stroke="#000" stroke-opacity="0.020" stroke-width="1.2"/>
<line x1="430.50" y1="73.70" x2="505.70" y2="109.70" stroke="#000" stroke-opacity="0.012" stroke-width="1.2"/>
<line x1="430.70" y1="79.70" x2="504.70" y2="108.70" stroke="#000" stroke-opacity="0.012" stroke-width="1.2"/>
<line x1="430.70" y1="79.70" x2="513.70" y2="103.40" stroke="#000" stroke-opacity="0.012" stroke-width="1.2"/>
<line x1="430.70" y1="79.70" x2="511.10" y2="109.10" stroke="#000" stroke-opacity="0.012" stroke-width="1.2"/>
<line x1="430.70" y1="79.70" x2="515.55" y2="111.15" stroke="#000" stroke-opacity="0.012" stroke-width="1.2"/>
<line x1="431.40" y1="81.70" x2="504.70" y2="108.70" stroke="#000" stroke-opacity="0.027" stroke-width="1.2"/>
<line x1="431.40" y1="81.70" x2="513.70" y2="103.40" stroke="#000" stroke-opacity="0.027" stroke-width="1.2"/>
<line x1="431.40" y1="81.70" x2="515.00" y2="118.10" stroke="#000" stroke-opacity="0.020" stroke-width="1.2"/>
<line x1="431.40" y1="81.70" x2="511.10" y2="109.10" stroke="#000" stroke-opacity="0.027" stroke-width="1.2"/>
<line x1="431.40" y1="81.70" x2="515.55" y2="111.15" stroke="#000" stroke-opacity="0.035" stroke-width="1.2"/>
<line x1="431.40" y1="81.70" x2="505.70" y2="109.70" stroke="#000" stroke-opacity="0.027" stroke-width="1.2"/>
<line x1="431.40" y1="81.70" x2="514.65" y2="110.45" stroke="#000" stroke-opacity="0.012" stroke-width="1.2"/>
<line x1="435.50" y1="83.70" x2="504.70" y2="108.70" stroke="#000" stroke-opacity="0.008" stroke-width="1.2"/>
<line x1="435.50" y1="83.70" x2="515.55" y2="111.15" stroke="#000" stroke-opacity="0.012" stroke-width="1.2"/>
</g>
<circle cx="451.05" cy="114.10" r="2.2" fill="#0000ff"/>
<circle cx="460.15" cy="100.40" r="2.2" fill="#0000ff"/>
<circle cx="457.75" cy="107.80" r="2.2" fill="#0000ff"/>
<circle cx="446.55" cy="117.70" r="2.2" fill="#0000ff"/>
<circle cx="464.95" cy="38.00" r="2.2" fill="#b22222"/>
<circle cx="461.95" cy="33.20" r="2.2" fill="#b22222"/>
<circle cx="455.55" cy="36.50" r="2.2" fill="#b22222"/>
<circle cx="449.35" cy="38.40" r="2.2" fill="#b22222"/>
<circle cx="430.50" cy="73.70" r="2.2" fill="#008000"/>
<circle cx="430.70" cy="79.70" r="2.2" fill="#008000"/>
<circle cx="431.40" cy="81.70" r="2.2" fill="#008000"/>
<circle cx="435.50" cy="83.70" r="2.2" fill="#008000"/>
<path d="M504.70 105.65L506.75 108.70L504.70 111.75L502.65 108.70Z" fill="#0000ff"/>
<path d="M514.30 119.85L516.35 122.90L514.30 125.95L512.25 122.90Z" fill="#0000ff"/>
<path d="M513.70 100.35L515.75 103.40L513.70 106.45L511.65 103.40Z" fill="#0000ff"/>
<path d="M505.10 112.35L507.15 115.40L505.10 118.45L503.05 115.40Z" fill="#0000ff"/>
<path d="M510.30 112.55L512.35 115.60L510.30 118.65L508.25 115.60Z" fill="#0000ff"/>
<path d="M515.00 115.05L517.05 118.10L515.00 121.15L512.95 118.10Z" fill="#0000ff"/>
<path d="M511.10 106.05L513.15 109.10L511.10 112.15L509.05 109.10Z" fill="#0000ff"/>
<path d="M515.55 108.10L517.60 111.15L515.55 114.20L513.50 111.15Z" fill="#0000ff"/>
<path d="M505.70 106.65L507.75 109.70L505.70 112.75L503.65 109.70Z" fill="#0000ff"/>
<path d="M514.65 107.40L516.70 110.45L514.65 113.50L512.60 110.45Z" fill="#0000ff"/>
<path d="M508.00 24.60L510.05 27.65L508.00 30.70L505.95 27.65Z" fill="#b22222"/>
<path d="M520.00 29.70L522.05 32.75L520.00 35.80L517.95 32.75Z" fill="#b22222"/>
<rect x="426.25" y="22.55" width="98.0" height="105.25" fill="none" stroke="#000" stroke-width="0.62"/>
<rect x="528.60" y="22.55" width="5.3" height="105.25" fill="url(#cg)" stroke="#000" stroke-width="0.62"/>
<line x1="533.90" y1="127.80" x2="536.30" y2="127.80" stroke="#000" stroke-width="0.75"/>
<text x="538.40" y="130.50" font-size="6.5" class="t">0.00</text>
<line x1="533.90" y1="102.54" x2="536.30" y2="102.54" stroke="#000" stroke-width="0.75"/>
<text x="538.40" y="105.24" font-size="6.5" class="t">0.02</text>
<line x1="533.90" y1="77.28" x2="536.30" y2="77.28" stroke="#000" stroke-width="0.75"/>
<text x="538.40" y="79.98" font-size="6.5" class="t">0.04</text>
<line x1="533.90" y1="52.02" x2="536.30" y2="52.02" stroke="#000" stroke-width="0.75"/>
<text x="538.40" y="54.72" font-size="6.5" class="t">0.06</text>
<line x1="533.90" y1="26.76" x2="536.30" y2="26.76" stroke="#000" stroke-width="0.75"/>
<text x="538.40" y="29.46" font-size="6.5" class="t">0.08</text>
<text transform="translate(475.25 18.6) scale(1.065 1)" font-size="10.3" text-anchor="middle">UOT(m=9, <tspan font-style="italic">τ</tspan>=0.05)</text>
<rect x="426.25" y="161.50" width="8.22" height="8.22" fill="rgb(228,228,228)"/>
<rect x="434.42" y="161.50" width="8.22" height="8.22" fill="rgb(238,238,238)"/>
<rect x="442.58" y="161.50" width="8.22" height="8.22" fill="rgb(240,240,240)"/>
<rect x="450.75" y="161.50" width="8.22" height="8.22" fill="rgb(242,242,242)"/>
<rect x="458.92" y="161.50" width="8.22" height="8.22" fill="rgb(242,242,242)"/>
<rect x="467.08" y="161.50" width="8.22" height="8.22" fill="rgb(232,232,232)"/>
<rect x="475.25" y="161.50" width="8.22" height="8.22" fill="rgb(236,236,236)"/>
<rect x="483.42" y="161.50" width="8.22" height="8.22" fill="rgb(224,224,224)"/>
<rect x="491.58" y="161.50" width="8.22" height="8.22" fill="rgb(224,224,224)"/>
<rect x="499.75" y="161.50" width="8.22" height="8.22" fill="rgb(236,236,236)"/>
<rect x="426.25" y="169.67" width="8.22" height="8.22" fill="rgb(208,208,208)"/>
<rect x="434.42" y="169.67" width="8.22" height="8.22" fill="rgb(230,230,230)"/>
<rect x="442.58" y="169.67" width="8.22" height="8.22" fill="rgb(216,216,216)"/>
<rect x="450.75" y="169.67" width="8.22" height="8.22" fill="rgb(228,228,228)"/>
<rect x="458.92" y="169.67" width="8.22" height="8.22" fill="rgb(226,226,226)"/>
<rect x="467.08" y="169.67" width="8.22" height="8.22" fill="rgb(216,216,216)"/>
<rect x="475.25" y="169.67" width="8.22" height="8.22" fill="rgb(216,216,216)"/>
<rect x="483.42" y="169.67" width="8.22" height="8.22" fill="rgb(198,198,198)"/>
<rect x="491.58" y="169.67" width="8.22" height="8.22" fill="rgb(212,212,212)"/>
<rect x="499.75" y="169.67" width="8.22" height="8.22" fill="rgb(224,224,224)"/>
<rect x="426.25" y="177.83" width="8.22" height="8.22" fill="rgb(208,208,208)"/>
<rect x="434.42" y="177.83" width="8.22" height="8.22" fill="rgb(226,226,226)"/>
<rect x="442.58" y="177.83" width="8.22" height="8.22" fill="rgb(224,224,224)"/>
<rect x="450.75" y="177.83" width="8.22" height="8.22" fill="rgb(226,226,226)"/>
<rect x="458.92" y="177.83" width="8.22" height="8.22" fill="rgb(226,226,226)"/>
<rect x="467.08" y="177.83" width="8.22" height="8.22" fill="rgb(216,216,216)"/>
<rect x="475.25" y="177.83" width="8.22" height="8.22" fill="rgb(218,218,218)"/>
<rect x="483.42" y="177.83" width="8.22" height="8.22" fill="rgb(206,206,206)"/>
<rect x="491.58" y="177.83" width="8.22" height="8.22" fill="rgb(208,208,208)"/>
<rect x="499.75" y="177.83" width="8.22" height="8.22" fill="rgb(226,226,226)"/>
<rect x="426.25" y="186.00" width="8.22" height="8.22" fill="rgb(238,238,238)"/>
<rect x="434.42" y="186.00" width="8.22" height="8.22" fill="rgb(244,244,244)"/>
<rect x="442.58" y="186.00" width="8.22" height="8.22" fill="rgb(246,246,246)"/>
<rect x="450.75" y="186.00" width="8.22" height="8.22" fill="rgb(246,246,246)"/>
<rect x="458.92" y="186.00" width="8.22" height="8.22" fill="rgb(246,246,246)"/>
<rect x="467.08" y="186.00" width="8.22" height="8.22" fill="rgb(242,242,242)"/>
<rect x="475.25" y="186.00" width="8.22" height="8.22" fill="rgb(242,242,242)"/>
<rect x="483.42" y="186.00" width="8.22" height="8.22" fill="rgb(236,236,236)"/>
<rect x="491.58" y="186.00" width="8.22" height="8.22" fill="rgb(236,236,236)"/>
<rect x="499.75" y="186.00" width="8.22" height="8.22" fill="rgb(246,246,246)"/>
<rect x="507.92" y="194.17" width="8.22" height="8.22" fill="rgb(156,156,156)"/>
<rect x="516.08" y="194.17" width="8.22" height="8.22" fill="rgb(208,208,208)"/>
<rect x="507.92" y="202.33" width="8.22" height="8.22" fill="rgb(160,160,160)"/>
<rect x="516.08" y="202.33" width="8.22" height="8.22" fill="rgb(212,212,212)"/>
<rect x="507.92" y="210.50" width="8.22" height="8.22" fill="rgb(200,200,200)"/>
<rect x="516.08" y="210.50" width="8.22" height="8.22" fill="rgb(228,228,228)"/>
<rect x="507.92" y="218.67" width="8.22" height="8.22" fill="rgb(216,216,216)"/>
<rect x="516.08" y="218.67" width="8.22" height="8.22" fill="rgb(238,238,238)"/>
<rect x="426.25" y="226.83" width="8.22" height="8.22" fill="rgb(250,250,250)"/>
<rect x="442.58" y="226.83" width="8.22" height="8.22" fill="rgb(250,250,250)"/>
<rect x="475.25" y="226.83" width="8.22" height="8.22" fill="rgb(250,250,250)"/>
<rect x="483.42" y="226.83" width="8.22" height="8.22" fill="rgb(250,250,250)"/>
<rect x="491.58" y="226.83" width="8.22" height="8.22" fill="rgb(252,252,252)"/>
<rect x="426.25" y="235.00" width="8.22" height="8.22" fill="rgb(252,252,252)"/>
<rect x="442.58" y="235.00" width="8.22" height="8.22" fill="rgb(252,252,252)"/>
<rect x="475.25" y="235.00" width="8.22" height="8.22" fill="rgb(252,252,252)"/>
<rect x="483.42" y="235.00" width="8.22" height="8.22" fill="rgb(252,252,252)"/>
<rect x="426.25" y="243.17" width="8.22" height="8.22" fill="rgb(248,248,248)"/>
<rect x="442.58" y="243.17" width="8.22" height="8.22" fill="rgb(248,248,248)"/>
<rect x="467.08" y="243.17" width="8.22" height="8.22" fill="rgb(250,250,250)"/>
<rect x="475.25" y="243.17" width="8.22" height="8.22" fill="rgb(248,248,248)"/>
<rect x="483.42" y="243.17" width="8.22" height="8.22" fill="rgb(246,246,246)"/>
<rect x="491.58" y="243.17" width="8.22" height="8.22" fill="rgb(248,248,248)"/>
<rect x="499.75" y="243.17" width="8.22" height="8.22" fill="rgb(252,252,252)"/>
<rect x="426.25" y="251.33" width="8.22" height="8.22" fill="rgb(253,253,253)"/>
<rect x="483.42" y="251.33" width="8.22" height="8.22" fill="rgb(252,252,252)"/>
<rect x="426.25" y="161.50" width="98.0" height="98.0" fill="none" stroke="#000" stroke-width="0.62"/>
<rect x="528.60" y="161.50" width="5.3" height="98.00" fill="url(#cg)" stroke="#000" stroke-width="0.62"/>
<line x1="533.90" y1="259.50" x2="536.30" y2="259.50" stroke="#000" stroke-width="0.75"/>
<text x="538.40" y="262.20" font-size="6.5" class="t">0.00</text>
<line x1="533.90" y1="235.98" x2="536.30" y2="235.98" stroke="#000" stroke-width="0.75"/>
<text x="538.40" y="238.68" font-size="6.5" class="t">0.02</text>
<line x1="533.90" y1="212.46" x2="536.30" y2="212.46" stroke="#000" stroke-width="0.75"/>
<text x="538.40" y="215.16" font-size="6.5" class="t">0.04</text>
<line x1="533.90" y1="188.94" x2="536.30" y2="188.94" stroke="#000" stroke-width="0.75"/>
<text x="538.40" y="191.64" font-size="6.5" class="t">0.06</text>
<line x1="533.90" y1="165.42" x2="536.30" y2="165.42" stroke="#000" stroke-width="0.75"/>
<text x="538.40" y="168.12" font-size="6.5" class="t">0.08</text>
<text transform="translate(475.25 157.6) scale(1.06 1)" font-size="10.3" text-anchor="middle">||Π||<tspan font-size="7.21" dx="0.8" dy="1.5">1</tspan><tspan dy="-1.5">=</tspan>0.48</text>
<g>
<line x1="586.35" y1="114.10" x2="650.30" y2="118.10" stroke="#000" stroke-opacity="1.000" stroke-width="1.2"/>
<line x1="595.45" y1="100.40" x2="645.60" y2="115.60" stroke="#000" stroke-opacity="1.000" stroke-width="1.2"/>
<line x1="593.05" y1="107.80" x2="640.40" y2="115.40" stroke="#000" stroke-opacity="1.000" stroke-width="1.2"/>
<line x1="581.85" y1="117.70" x2="649.60" y2="122.90" stroke="#000" stroke-opacity="1.000" stroke-width="1.2"/>
<line x1="600.25" y1="38.00" x2="649.00" y2="103.40" stroke="#000" stroke-opacity="1.000" stroke-width="1.2"/>
<line x1="597.25" y1="33.20" x2="655.30" y2="32.75" stroke="#000" stroke-opacity="1.000" stroke-width="1.2"/>
<line x1="590.85" y1="36.50" x2="643.30" y2="27.65" stroke="#000" stroke-opacity="1.000" stroke-width="1.2"/>
<line x1="584.65" y1="38.40" x2="646.40" y2="109.10" stroke="#000" stroke-opacity="1.000" stroke-width="1.2"/>
<line x1="565.80" y1="73.70" x2="640.00" y2="108.70" stroke="#000" stroke-opacity="1.000" stroke-width="1.2"/>
<line x1="566.00" y1="79.70" x2="641.00" y2="109.70" stroke="#000" stroke-opacity="1.000" stroke-width="1.2"/>
<line x1="566.70" y1="81.70" x2="649.95" y2="110.45" stroke="#000" stroke-opacity="1.000" stroke-width="1.2"/>
<line x1="570.80" y1="83.70" x2="650.85" y2="111.15" stroke="#000" stroke-opacity="1.000" stroke-width="1.2"/>
</g>
<circle cx="586.35" cy="114.10" r="2.2" fill="#0000ff"/>
<circle cx="595.45" cy="100.40" r="2.2" fill="#0000ff"/>
<circle cx="593.05" cy="107.80" r="2.2" fill="#0000ff"/>
<circle cx="581.85" cy="117.70" r="2.2" fill="#0000ff"/>
<circle cx="600.25" cy="38.00" r="2.2" fill="#b22222"/>
<circle cx="597.25" cy="33.20" r="2.2" fill="#b22222"/>
<circle cx="590.85" cy="36.50" r="2.2" fill="#b22222"/>
<circle cx="584.65" cy="38.40" r="2.2" fill="#b22222"/>
<circle cx="565.80" cy="73.70" r="2.2" fill="#008000"/>
<circle cx="566.00" cy="79.70" r="2.2" fill="#008000"/>
<circle cx="566.70" cy="81.70" r="2.2" fill="#008000"/>
<circle cx="570.80" cy="83.70" r="2.2" fill="#008000"/>
<path d="M640.00 105.65L642.05 108.70L640.00 111.75L637.95 108.70Z" fill="#0000ff"/>
<path d="M649.60 119.85L651.65 122.90L649.60 125.95L647.55 122.90Z" fill="#0000ff"/>
<path d="M649.00 100.35L651.05 103.40L649.00 106.45L646.95 103.40Z" fill="#0000ff"/>
<path d="M640.40 112.35L642.45 115.40L640.40 118.45L638.35 115.40Z" fill="#0000ff"/>
<path d="M645.60 112.55L647.65 115.60L645.60 118.65L643.55 115.60Z" fill="#0000ff"/>
<path d="M650.30 115.05L652.35 118.10L650.30 121.15L648.25 118.10Z" fill="#0000ff"/>
<path d="M646.40 106.05L648.45 109.10L646.40 112.15L644.35 109.10Z" fill="#0000ff"/>
<path d="M650.85 108.10L652.90 111.15L650.85 114.20L648.80 111.15Z" fill="#0000ff"/>
<path d="M641.00 106.65L643.05 109.70L641.00 112.75L638.95 109.70Z" fill="#0000ff"/>
<path d="M649.95 107.40L652.00 110.45L649.95 113.50L647.90 110.45Z" fill="#0000ff"/>
<path d="M643.30 24.60L645.35 27.65L643.30 30.70L641.25 27.65Z" fill="#b22222"/>
<path d="M655.30 29.70L657.35 32.75L655.30 35.80L653.25 32.75Z" fill="#b22222"/>
<rect x="561.55" y="22.55" width="98.0" height="105.25" fill="none" stroke="#000" stroke-width="0.62"/>
<rect x="663.90" y="22.55" width="5.3" height="105.25" fill="url(#cg)" stroke="#000" stroke-width="0.62"/>
<line x1="669.20" y1="127.80" x2="671.60" y2="127.80" stroke="#000" stroke-width="0.75"/>
<text x="673.70" y="130.50" font-size="6.5" class="t">0.00</text>
<line x1="669.20" y1="102.54" x2="671.60" y2="102.54" stroke="#000" stroke-width="0.75"/>
<text x="673.70" y="105.24" font-size="6.5" class="t">0.02</text>
<line x1="669.20" y1="77.28" x2="671.60" y2="77.28" stroke="#000" stroke-width="0.75"/>
<text x="673.70" y="79.98" font-size="6.5" class="t">0.04</text>
<line x1="669.20" y1="52.02" x2="671.60" y2="52.02" stroke="#000" stroke-width="0.75"/>
<text x="673.70" y="54.72" font-size="6.5" class="t">0.06</text>
<line x1="669.20" y1="26.76" x2="671.60" y2="26.76" stroke="#000" stroke-width="0.75"/>
<text x="673.70" y="29.46" font-size="6.5" class="t">0.08</text>
<text transform="translate(610.55 18.6) scale(1.065 1)" font-size="10.3" text-anchor="middle">OT</text>
<rect x="602.38" y="161.50" width="8.22" height="8.22" fill="rgb(0,0,0)"/>
<rect x="594.22" y="169.67" width="8.22" height="8.22" fill="rgb(0,0,0)"/>
<rect x="586.05" y="177.83" width="8.22" height="8.22" fill="rgb(0,0,0)"/>
<rect x="569.72" y="186.00" width="8.22" height="8.22" fill="rgb(0,0,0)"/>
<rect x="577.88" y="194.17" width="8.22" height="8.22" fill="rgb(0,0,0)"/>
<rect x="651.38" y="202.33" width="8.22" height="8.22" fill="rgb(0,0,0)"/>
<rect x="643.22" y="210.50" width="8.22" height="8.22" fill="rgb(0,0,0)"/>
<rect x="610.55" y="218.67" width="8.22" height="8.22" fill="rgb(0,0,0)"/>
<rect x="561.55" y="226.83" width="8.22" height="8.22" fill="rgb(0,0,0)"/>
<rect x="626.88" y="235.00" width="8.22" height="8.22" fill="rgb(0,0,0)"/>
<rect x="635.05" y="243.17" width="8.22" height="8.22" fill="rgb(0,0,0)"/>
<rect x="618.72" y="251.33" width="8.22" height="8.22" fill="rgb(0,0,0)"/>
<rect x="561.55" y="161.50" width="98.0" height="98.0" fill="none" stroke="#000" stroke-width="0.62"/>
<rect x="663.90" y="161.50" width="5.3" height="98.00" fill="url(#cg)" stroke="#000" stroke-width="0.62"/>
<line x1="669.20" y1="259.50" x2="671.60" y2="259.50" stroke="#000" stroke-width="0.75"/>
<text x="673.70" y="262.20" font-size="6.5" class="t">0.00</text>
<line x1="669.20" y1="235.98" x2="671.60" y2="235.98" stroke="#000" stroke-width="0.75"/>
<text x="673.70" y="238.68" font-size="6.5" class="t">0.02</text>
<line x1="669.20" y1="212.46" x2="671.60" y2="212.46" stroke="#000" stroke-width="0.75"/>
<text x="673.70" y="215.16" font-size="6.5" class="t">0.04</text>
<line x1="669.20" y1="188.94" x2="671.60" y2="188.94" stroke="#000" stroke-width="0.75"/>
<text x="673.70" y="191.64" font-size="6.5" class="t">0.06</text>
<line x1="669.20" y1="165.42" x2="671.60" y2="165.42" stroke="#000" stroke-width="0.75"/>
<text x="673.70" y="168.12" font-size="6.5" class="t">0.08</text>
<text transform="translate(610.55 157.6) scale(1.06 1)" font-size="10.3" text-anchor="middle">||Π||<tspan font-size="7.21" dx="0.8" dy="1.5">1</tspan><tspan dy="-1.5">=</tspan>1.0</text>
<g>
<line x1="721.80" y1="114.10" x2="775.45" y2="108.70" stroke="#000" stroke-opacity="0.027" stroke-width="1.2"/>
<line x1="721.80" y1="114.10" x2="785.05" y2="122.90" stroke="#000" stroke-opacity="0.020" stroke-width="1.2"/>
<line x1="721.80" y1="114.10" x2="775.85" y2="115.40" stroke="#000" stroke-opacity="0.020" stroke-width="1.2"/>
<line x1="721.80" y1="114.10" x2="785.75" y2="118.10" stroke="#000" stroke-opacity="0.027" stroke-width="1.2"/>
<line x1="721.80" y1="114.10" x2="781.85" y2="109.10" stroke="#000" stroke-opacity="0.012" stroke-width="1.2"/>
<line x1="721.80" y1="114.10" x2="786.30" y2="111.15" stroke="#000" stroke-opacity="0.035" stroke-width="1.2"/>
<line x1="721.80" y1="114.10" x2="776.45" y2="109.70" stroke="#000" stroke-opacity="0.043" stroke-width="1.2"/>
<line x1="730.90" y1="100.40" x2="775.45" y2="108.70" stroke="#000" stroke-opacity="0.075" stroke-width="1.2"/>
<line x1="730.90" y1="100.40" x2="785.05" y2="122.90" stroke="#000" stroke-opacity="0.012" stroke-width="1.2"/>
<line x1="730.90" y1="100.40" x2="784.45" y2="103.40" stroke="#000" stroke-opacity="0.063" stroke-width="1.2"/>
<line x1="730.90" y1="100.40" x2="775.85" y2="115.40" stroke="#000" stroke-opacity="0.020" stroke-width="1.2"/>
<line x1="730.90" y1="100.40" x2="781.05" y2="115.60" stroke="#000" stroke-opacity="0.027" stroke-width="1.2"/>
<line x1="730.90" y1="100.40" x2="785.75" y2="118.10" stroke="#000" stroke-opacity="0.035" stroke-width="1.2"/>
<line x1="730.90" y1="100.40" x2="781.85" y2="109.10" stroke="#000" stroke-opacity="0.059" stroke-width="1.2"/>
<line x1="730.90" y1="100.40" x2="786.30" y2="111.15" stroke="#000" stroke-opacity="0.090" stroke-width="1.2"/>
<line x1="730.90" y1="100.40" x2="776.45" y2="109.70" stroke="#000" stroke-opacity="0.043" stroke-width="1.2"/>
<line x1="730.90" y1="100.40" x2="785.40" y2="110.45" stroke="#000" stroke-opacity="0.020" stroke-width="1.2"/>
<line x1="728.50" y1="107.80" x2="775.45" y2="108.70" stroke="#000" stroke-opacity="0.059" stroke-width="1.2"/>
<line x1="728.50" y1="107.80" x2="785.05" y2="122.90" stroke="#000" stroke-opacity="0.027" stroke-width="1.2"/>
<line x1="728.50" y1="107.80" x2="784.45" y2="103.40" stroke="#000" stroke-opacity="0.027" stroke-width="1.2"/>
<line x1="728.50" y1="107.80" x2="775.85" y2="115.40" stroke="#000" stroke-opacity="0.027" stroke-width="1.2"/>
<line x1="728.50" y1="107.80" x2="781.05" y2="115.60" stroke="#000" stroke-opacity="0.027" stroke-width="1.2"/>
<line x1="728.50" y1="107.80" x2="785.75" y2="118.10" stroke="#000" stroke-opacity="0.051" stroke-width="1.2"/>
<line x1="728.50" y1="107.80" x2="781.85" y2="109.10" stroke="#000" stroke-opacity="0.043" stroke-width="1.2"/>
<line x1="728.50" y1="107.80" x2="786.30" y2="111.15" stroke="#000" stroke-opacity="0.067" stroke-width="1.2"/>
<line x1="728.50" y1="107.80" x2="776.45" y2="109.70" stroke="#000" stroke-opacity="0.067" stroke-width="1.2"/>
<line x1="728.50" y1="107.80" x2="785.40" y2="110.45" stroke="#000" stroke-opacity="0.027" stroke-width="1.2"/>
<line x1="717.30" y1="117.70" x2="775.45" y2="108.70" stroke="#000" stroke-opacity="0.020" stroke-width="1.2"/>
<line x1="717.30" y1="117.70" x2="785.05" y2="122.90" stroke="#000" stroke-opacity="0.012" stroke-width="1.2"/>
<line x1="717.30" y1="117.70" x2="785.75" y2="118.10" stroke="#000" stroke-opacity="0.012" stroke-width="1.2"/>
<line x1="717.30" y1="117.70" x2="786.30" y2="111.15" stroke="#000" stroke-opacity="0.027" stroke-width="1.2"/>
<line x1="717.30" y1="117.70" x2="776.45" y2="109.70" stroke="#000" stroke-opacity="0.035" stroke-width="1.2"/>
<line x1="735.70" y1="38.00" x2="778.75" y2="27.65" stroke="#000" stroke-opacity="0.184" stroke-width="1.2"/>
<line x1="735.70" y1="38.00" x2="790.75" y2="32.75" stroke="#000" stroke-opacity="0.090" stroke-width="1.2"/>
<line x1="732.70" y1="33.20" x2="778.75" y2="27.65" stroke="#000" stroke-opacity="0.184" stroke-width="1.2"/>
<line x1="732.70" y1="33.20" x2="790.75" y2="32.75" stroke="#000" stroke-opacity="0.059" stroke-width="1.2"/>
<line x1="726.30" y1="36.50" x2="778.75" y2="27.65" stroke="#000" stroke-opacity="0.090" stroke-width="1.2"/>
<line x1="720.10" y1="38.40" x2="778.75" y2="27.65" stroke="#000" stroke-opacity="0.043" stroke-width="1.2"/>
</g>
<circle cx="721.80" cy="114.10" r="2.2" fill="#0000ff"/>
<circle cx="730.90" cy="100.40" r="2.2" fill="#0000ff"/>
<circle cx="728.50" cy="107.80" r="2.2" fill="#0000ff"/>
<circle cx="717.30" cy="117.70" r="2.2" fill="#0000ff"/>
<circle cx="735.70" cy="38.00" r="2.2" fill="#b22222"/>
<circle cx="732.70" cy="33.20" r="2.2" fill="#b22222"/>
<circle cx="726.30" cy="36.50" r="2.2" fill="#b22222"/>
<circle cx="720.10" cy="38.40" r="2.2" fill="#b22222"/>
<circle cx="701.25" cy="73.70" r="2.2" fill="#008000"/>
<circle cx="701.45" cy="79.70" r="2.2" fill="#008000"/>
<circle cx="702.15" cy="81.70" r="2.2" fill="#008000"/>
<circle cx="706.25" cy="83.70" r="2.2" fill="#008000"/>
<path d="M775.45 105.65L777.50 108.70L775.45 111.75L773.40 108.70Z" fill="#0000ff"/>
<path d="M785.05 119.85L787.10 122.90L785.05 125.95L783.00 122.90Z" fill="#0000ff"/>
<path d="M784.45 100.35L786.50 103.40L784.45 106.45L782.40 103.40Z" fill="#0000ff"/>
<path d="M775.85 112.35L777.90 115.40L775.85 118.45L773.80 115.40Z" fill="#0000ff"/>
<path d="M781.05 112.55L783.10 115.60L781.05 118.65L779.00 115.60Z" fill="#0000ff"/>
<path d="M785.75 115.05L787.80 118.10L785.75 121.15L783.70 118.10Z" fill="#0000ff"/>
<path d="M781.85 106.05L783.90 109.10L781.85 112.15L779.80 109.10Z" fill="#0000ff"/>
<path d="M786.30 108.10L788.35 111.15L786.30 114.20L784.25 111.15Z" fill="#0000ff"/>
<path d="M776.45 106.65L778.50 109.70L776.45 112.75L774.40 109.70Z" fill="#0000ff"/>
<path d="M785.40 107.40L787.45 110.45L785.40 113.50L783.35 110.45Z" fill="#0000ff"/>
<path d="M778.75 24.60L780.80 27.65L778.75 30.70L776.70 27.65Z" fill="#b22222"/>
<path d="M790.75 29.70L792.80 32.75L790.75 35.80L788.70 32.75Z" fill="#b22222"/>
<rect x="697.00" y="22.55" width="98.0" height="105.25" fill="none" stroke="#000" stroke-width="0.62"/>
<rect x="799.35" y="22.55" width="5.3" height="105.25" fill="url(#cg)" stroke="#000" stroke-width="0.62"/>
<line x1="804.65" y1="127.80" x2="807.05" y2="127.80" stroke="#000" stroke-width="0.75"/>
<text x="809.15" y="130.50" font-size="6.5" class="t">0.00</text>
<line x1="804.65" y1="102.54" x2="807.05" y2="102.54" stroke="#000" stroke-width="0.75"/>
<text x="809.15" y="105.24" font-size="6.5" class="t">0.02</text>
<line x1="804.65" y1="77.28" x2="807.05" y2="77.28" stroke="#000" stroke-width="0.75"/>
<text x="809.15" y="79.98" font-size="6.5" class="t">0.04</text>
<line x1="804.65" y1="52.02" x2="807.05" y2="52.02" stroke="#000" stroke-width="0.75"/>
<text x="809.15" y="54.72" font-size="6.5" class="t">0.06</text>
<line x1="804.65" y1="26.76" x2="807.05" y2="26.76" stroke="#000" stroke-width="0.75"/>
<text x="809.15" y="29.46" font-size="6.5" class="t">0.08</text>
<text transform="translate(746.00 18.6) scale(1.065 1)" font-size="10.3" text-anchor="middle">UOT, <tspan font-style="italic">τ</tspan>=0.05</text>
<rect x="697.00" y="161.50" width="8.22" height="8.22" fill="rgb(248,248,248)"/>
<rect x="705.17" y="161.50" width="8.22" height="8.22" fill="rgb(250,250,250)"/>
<rect x="713.33" y="161.50" width="8.22" height="8.22" fill="rgb(254,254,254)"/>
<rect x="721.50" y="161.50" width="8.22" height="8.22" fill="rgb(250,250,250)"/>
<rect x="729.67" y="161.50" width="8.22" height="8.22" fill="rgb(254,254,254)"/>
<rect x="737.83" y="161.50" width="8.22" height="8.22" fill="rgb(248,248,248)"/>
<rect x="746.00" y="161.50" width="8.22" height="8.22" fill="rgb(252,252,252)"/>
<rect x="754.17" y="161.50" width="8.22" height="8.22" fill="rgb(246,246,246)"/>
<rect x="762.33" y="161.50" width="8.22" height="8.22" fill="rgb(244,244,244)"/>
<rect x="770.50" y="161.50" width="8.22" height="8.22" fill="rgb(254,254,254)"/>
<rect x="697.00" y="169.67" width="8.22" height="8.22" fill="rgb(236,236,236)"/>
<rect x="705.17" y="169.67" width="8.22" height="8.22" fill="rgb(252,252,252)"/>
<rect x="713.33" y="169.67" width="8.22" height="8.22" fill="rgb(239,239,239)"/>
<rect x="721.50" y="169.67" width="8.22" height="8.22" fill="rgb(250,250,250)"/>
<rect x="729.67" y="169.67" width="8.22" height="8.22" fill="rgb(248,248,248)"/>
<rect x="737.83" y="169.67" width="8.22" height="8.22" fill="rgb(246,246,246)"/>
<rect x="746.00" y="169.67" width="8.22" height="8.22" fill="rgb(240,240,240)"/>
<rect x="754.17" y="169.67" width="8.22" height="8.22" fill="rgb(232,232,232)"/>
<rect x="762.33" y="169.67" width="8.22" height="8.22" fill="rgb(244,244,244)"/>
<rect x="770.50" y="169.67" width="8.22" height="8.22" fill="rgb(250,250,250)"/>
<rect x="697.00" y="177.83" width="8.22" height="8.22" fill="rgb(240,240,240)"/>
<rect x="705.17" y="177.83" width="8.22" height="8.22" fill="rgb(248,248,248)"/>
<rect x="713.33" y="177.83" width="8.22" height="8.22" fill="rgb(248,248,248)"/>
<rect x="721.50" y="177.83" width="8.22" height="8.22" fill="rgb(248,248,248)"/>
<rect x="729.67" y="177.83" width="8.22" height="8.22" fill="rgb(248,248,248)"/>
<rect x="737.83" y="177.83" width="8.22" height="8.22" fill="rgb(242,242,242)"/>
<rect x="746.00" y="177.83" width="8.22" height="8.22" fill="rgb(244,244,244)"/>
<rect x="754.17" y="177.83" width="8.22" height="8.22" fill="rgb(238,238,238)"/>
<rect x="762.33" y="177.83" width="8.22" height="8.22" fill="rgb(238,238,238)"/>
<rect x="770.50" y="177.83" width="8.22" height="8.22" fill="rgb(248,248,248)"/>
<rect x="697.00" y="186.00" width="8.22" height="8.22" fill="rgb(250,250,250)"/>
<rect x="705.17" y="186.00" width="8.22" height="8.22" fill="rgb(252,252,252)"/>
<rect x="737.83" y="186.00" width="8.22" height="8.22" fill="rgb(252,252,252)"/>
<rect x="754.17" y="186.00" width="8.22" height="8.22" fill="rgb(248,248,248)"/>
<rect x="762.33" y="186.00" width="8.22" height="8.22" fill="rgb(246,246,246)"/>
<rect x="778.67" y="194.17" width="8.22" height="8.22" fill="rgb(208,208,208)"/>
<rect x="786.83" y="194.17" width="8.22" height="8.22" fill="rgb(232,232,232)"/>
<rect x="778.67" y="202.33" width="8.22" height="8.22" fill="rgb(208,208,208)"/>
<rect x="786.83" y="202.33" width="8.22" height="8.22" fill="rgb(240,240,240)"/>
<rect x="778.67" y="210.50" width="8.22" height="8.22" fill="rgb(232,232,232)"/>
<rect x="778.67" y="218.67" width="8.22" height="8.22" fill="rgb(244,244,244)"/>
<rect x="697.00" y="161.50" width="98.0" height="98.0" fill="none" stroke="#000" stroke-width="0.62"/>
<rect x="799.35" y="161.50" width="5.3" height="98.00" fill="url(#cg)" stroke="#000" stroke-width="0.62"/>
<line x1="804.65" y1="259.50" x2="807.05" y2="259.50" stroke="#000" stroke-width="0.75"/>
<text x="809.15" y="262.20" font-size="6.5" class="t">0.00</text>
<line x1="804.65" y1="235.98" x2="807.05" y2="235.98" stroke="#000" stroke-width="0.75"/>
<text x="809.15" y="238.68" font-size="6.5" class="t">0.02</text>
<line x1="804.65" y1="212.46" x2="807.05" y2="212.46" stroke="#000" stroke-width="0.75"/>
<text x="809.15" y="215.16" font-size="6.5" class="t">0.04</text>
<line x1="804.65" y1="188.94" x2="807.05" y2="188.94" stroke="#000" stroke-width="0.75"/>
<text x="809.15" y="191.64" font-size="6.5" class="t">0.06</text>
<line x1="804.65" y1="165.42" x2="807.05" y2="165.42" stroke="#000" stroke-width="0.75"/>
<text x="809.15" y="168.12" font-size="6.5" class="t">0.08</text>
<text transform="translate(746.00 157.6) scale(1.06 1)" font-size="10.3" text-anchor="middle">||Π||<tspan font-size="7.21" dx="0.8" dy="1.5">1</tspan><tspan dy="-1.5">=</tspan>0.13</text>
<text transform="translate(15.7 75.4) rotate(-90)" font-size="10.3" text-anchor="middle">OT of samples</text>
<text transform="translate(15.7 210.7) rotate(-90)" font-size="10.3" text-anchor="middle">OT matrix</text>
</svg>
</body></html>
